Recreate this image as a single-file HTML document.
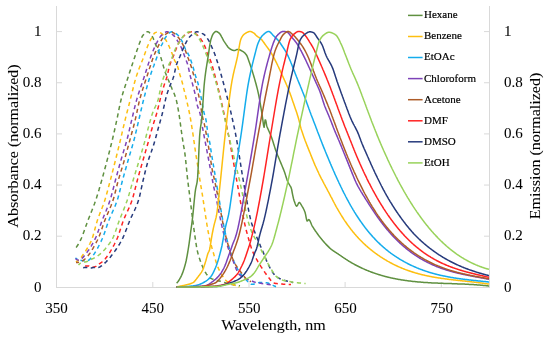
<!DOCTYPE html><html><head><meta charset="utf-8"><style>
html,body{margin:0;padding:0;background:#fff;}body{width:550px;height:338px;overflow:hidden;position:relative;}
svg{position:absolute;left:0;top:0;}
text{font-family:"Liberation Serif",serif;fill:#000;stroke:#000;stroke-width:0.05px;}
</style></head><body>
<svg width="550" height="338" viewBox="0 0 550 338">
<g stroke="#d9d9d9" stroke-width="1" fill="none">
<path d="M56.5,6V287.5H489.5V6" shape-rendering="crispEdges"/>
<path d="M57,31.6H62M484,31.6H489"/>
<path d="M57,82.75H62M484,82.75H489"/>
<path d="M57,133.9H62M484,133.9H489"/>
<path d="M57,185.05H62M484,185.05H489"/>
<path d="M57,236.2H62M484,236.2H489"/>
<path d="M152.8,282V287"/>
<path d="M249.0,282V287"/>
<path d="M345.1,282V287"/>
<path d="M441.3,282V287"/>
</g>
<g fill="none" stroke-width="1.5" stroke-linejoin="round">
<path stroke="#5f9040" stroke-dasharray="4.2 3.4" stroke-dashoffset="7.5" d="M76.0,247.5 76.5,246.9 77.0,246.2 77.5,245.5 78.0,244.8 78.5,244.0 79.0,243.1 79.5,242.2 80.0,241.2 80.5,240.2 81.0,239.1 81.5,238.0 82.0,236.7 82.5,235.5 83.0,234.2 83.5,232.8 84.0,231.4 84.5,230.0 85.0,228.6 85.5,227.2 86.0,225.8 86.5,224.4 87.0,223.0 87.5,221.6 88.0,220.3 88.5,219.0 89.0,217.7 89.5,216.4 90.0,215.1 90.5,213.9 91.0,212.7 91.5,211.4 92.0,210.2 92.5,208.9 93.0,207.6 93.5,206.3 94.0,205.0 94.5,203.7 95.0,202.3 95.5,200.9 96.0,199.4 96.5,197.9 97.0,196.3 97.5,194.7 98.0,193.1 98.5,191.4 99.0,189.8 99.5,188.0 100.0,186.3 100.5,184.6 101.0,182.8 101.5,181.1 102.0,179.3 102.5,177.5 103.0,175.7 103.5,173.9 104.0,172.1 104.5,170.2 105.0,168.3 105.5,166.5 106.0,164.6 106.5,162.7 107.0,160.8 107.5,158.9 108.0,157.0 108.5,155.0 109.0,153.1 109.5,151.2 110.0,149.3 110.5,147.3 111.0,145.3 111.5,143.3 112.0,141.2 112.5,139.2 113.0,137.0 113.5,134.9 114.0,132.7 114.5,130.5 115.0,128.2 115.5,126.0 116.0,123.7 116.5,121.4 117.0,119.1 117.5,116.7 118.0,114.2 118.5,111.6 119.0,109.1 119.5,106.7 120.0,104.3 120.5,102.1 121.0,100.0 121.5,98.1 122.0,96.3 122.5,94.5 123.0,92.8 123.5,91.2 124.0,89.6 124.5,88.1 125.0,86.6 125.5,85.1 126.0,83.6 126.5,82.1 127.0,80.6 127.5,79.0 128.0,77.5 128.5,75.9 129.0,74.4 129.5,72.8 130.0,71.3 130.5,69.8 131.0,68.2 131.5,66.7 132.0,65.2 132.5,63.7 133.0,62.2 133.5,60.7 134.0,59.2 134.5,57.7 135.0,56.2 135.5,54.7 136.0,53.2 136.5,51.8 137.0,50.3 137.5,48.9 138.0,47.5 138.5,46.0 139.0,44.6 139.5,43.3 140.0,42.0 140.5,40.7 141.0,39.4 141.5,38.1 142.0,36.9 142.5,35.9 143.0,35.3 143.5,34.7 144.0,34.1 144.5,33.6 145.0,33.1 145.5,32.6 146.0,32.3 146.5,32.0 147.0,31.8 147.5,31.7 148.0,31.7 148.5,31.9 149.0,32.2 149.5,32.7 150.0,33.2 150.5,33.9 151.0,34.6 151.5,35.3 152.0,36.0 152.5,36.8 153.0,37.8 153.5,39.0 154.0,40.3 154.5,41.7 155.0,43.0 155.5,44.2 156.0,45.4 156.5,46.6 157.0,47.7 157.5,48.8 158.0,50.0 158.5,51.2 159.0,52.4 159.5,53.7 160.0,55.0 160.5,56.4 161.0,58.0 161.5,59.6 162.0,61.3 162.5,63.1 163.0,64.8 163.5,66.6 164.0,68.3 164.5,69.9 165.0,71.4 165.5,72.9 166.0,74.2 166.5,75.5 167.0,76.8 167.5,78.0 168.0,79.2 168.5,80.3 169.0,81.5 169.5,82.7 170.0,83.9 170.5,85.0 171.0,86.3 171.5,87.5 172.0,88.7 172.5,89.8 173.0,90.9 173.5,92.1 174.0,93.3 174.5,94.5 175.0,95.9 175.5,97.3 176.0,99.0 176.5,100.9 177.0,103.1 177.5,105.6 178.0,108.3 178.5,111.2 179.0,114.2 179.5,117.3 180.0,120.8 180.5,124.6 181.0,128.4 181.5,132.0 182.0,135.5 182.5,138.9 183.0,142.1 183.5,145.2 184.0,147.9 184.5,150.7 185.0,154.3 185.5,158.6 186.0,163.3 186.5,168.4 187.0,173.7 187.5,178.4 188.0,182.5 188.5,186.4 189.0,190.3 189.5,194.2 190.0,198.2 190.5,202.2 191.0,206.2 191.5,210.3 192.0,214.3 192.5,218.2 193.0,222.1 193.5,225.9 194.0,229.6 194.5,233.2 195.0,236.6 195.5,240.0 196.0,243.4 196.5,246.5 197.0,249.3 197.5,251.6 198.0,253.6 198.5,255.4 199.0,257.0 199.5,258.6 200.0,260.0 200.5,261.4 201.0,262.6 201.5,263.9 202.0,265.2 202.5,266.4 203.0,267.6 203.5,268.8 204.0,269.8 204.5,270.8 205.0,271.7 205.5,272.5 206.0,273.3 206.5,274.1 207.0,274.8 207.5,275.5 208.0,276.2 208.5,276.7 209.0,277.2 209.5,277.6 210.0,277.9 210.5,278.2 211.0,278.4 211.5,278.7 212.0,278.9 212.5,279.1 213.0,279.3 213.5,279.5 214.0,279.6 214.5,279.8 215.0,279.9 215.5,280.1 216.0,280.2 216.5,280.4 217.0,280.5 217.5,280.6 218.0,280.7 218.5,280.9 219.0,281.0 219.5,281.1 220.0,281.2 220.5,281.3 221.0,281.5 221.5,281.6 222.0,281.7 222.5,281.9 223.0,282.0 223.5,282.1 224.0,282.3 224.5,282.5 225.0,282.6 225.5,282.8 226.0,282.9 226.5,283.1 227.0,283.2 227.5,283.4 228.0,283.5 228.5,283.6 229.0,283.8 229.5,283.9 230.0,284.0 230.5,284.2 231.0,284.3 231.5,284.4 232.0,284.5 232.5,284.6 233.0,284.7 233.5,284.8 234.0,284.9 234.5,285.0 235.0,285.1 235.5,285.2 236.0,285.2 236.5,285.3 237.0,285.4 237.5,285.5 238.0,285.6 238.5,285.6 239.0,285.7 239.5,285.7 240.0,285.8"/>
<path stroke="#fdbf10" stroke-dasharray="4.2 3.4" stroke-dashoffset="0.8" d="M76.0,262.0 76.5,261.6 77.0,261.2 77.5,260.8 78.0,260.4 78.5,260.0 79.0,259.5 79.5,259.0 80.0,258.6 80.5,258.1 81.0,257.5 81.5,256.9 82.0,256.2 82.5,255.5 83.0,254.8 83.5,254.1 84.0,253.3 84.5,252.6 85.0,251.8 85.5,251.1 86.0,250.3 86.5,249.5 87.0,248.8 87.5,248.0 88.0,247.1 88.5,246.3 89.0,245.4 89.5,244.4 90.0,243.5 90.5,242.4 91.0,241.4 91.5,240.2 92.0,239.0 92.5,237.6 93.0,236.0 93.5,234.3 94.0,232.5 94.5,230.7 95.0,228.8 95.5,226.9 96.0,225.1 96.5,223.3 97.0,221.6 97.5,220.0 98.0,218.5 98.5,217.1 99.0,215.7 99.5,214.4 100.0,213.1 100.5,211.9 101.0,210.6 101.5,209.3 102.0,208.1 102.5,206.8 103.0,205.5 103.5,204.1 104.0,202.7 104.5,201.2 105.0,199.7 105.5,198.1 106.0,196.4 106.5,194.6 107.0,192.8 107.5,191.0 108.0,189.1 108.5,187.2 109.0,185.3 109.5,183.4 110.0,181.5 110.5,179.6 111.0,177.7 111.5,175.8 112.0,173.9 112.5,171.9 113.0,169.9 113.5,168.0 114.0,166.0 114.5,164.0 115.0,162.0 115.5,160.0 116.0,158.0 116.5,156.0 117.0,154.0 117.5,151.9 118.0,149.9 118.5,147.9 119.0,145.8 119.5,143.7 120.0,141.7 120.5,139.6 121.0,137.5 121.5,135.3 122.0,133.2 122.5,131.0 123.0,128.9 123.5,126.7 124.0,124.6 124.5,122.5 125.0,120.4 125.5,118.4 126.0,116.4 126.5,114.4 127.0,112.4 127.5,110.5 128.0,108.5 128.5,106.6 129.0,104.7 129.5,102.7 130.0,100.8 130.5,98.8 131.0,96.8 131.5,94.8 132.0,92.7 132.5,90.7 133.0,88.7 133.5,86.6 134.0,84.7 134.5,82.8 135.0,80.9 135.5,79.2 136.0,77.5 136.5,75.9 137.0,74.4 137.5,73.0 138.0,71.5 138.5,70.2 139.0,68.8 139.5,67.5 140.0,66.2 140.5,65.0 141.0,63.7 141.5,62.5 142.0,61.2 142.5,60.0 143.0,58.7 143.5,57.4 144.0,56.1 144.5,54.7 145.0,53.3 145.5,51.9 146.0,50.5 146.5,49.1 147.0,47.8 147.5,46.5 148.0,45.3 148.5,44.2 149.0,43.0 149.5,42.0 150.0,40.9 150.5,39.9 151.0,39.0 151.5,38.1 152.0,37.1 152.5,36.1 153.0,35.2 153.5,34.4 154.0,33.7 154.5,33.1 155.0,32.8 155.5,32.6 156.0,32.4 156.5,32.2 157.0,32.1 157.5,32.0 158.0,32.0 158.5,32.0 159.0,32.1 159.5,32.3 160.0,32.5 160.5,32.8 161.0,33.1 161.5,33.4 162.0,33.8 162.5,34.3 163.0,35.0 163.5,35.8 164.0,36.6 164.5,37.5 165.0,38.5 165.5,39.4 166.0,40.3 166.5,41.2 167.0,42.1 167.5,43.1 168.0,44.1 168.5,45.2 169.0,46.2 169.5,47.3 170.0,48.5 170.5,49.6 171.0,50.8 171.5,52.1 172.0,53.3 172.5,54.7 173.0,56.2 173.5,57.7 174.0,59.0 174.5,60.1 175.0,61.1 175.5,62.0 176.0,62.9 176.5,63.9 177.0,65.0 177.5,66.2 178.0,67.8 178.5,69.5 179.0,71.4 179.5,73.2 180.0,75.0 180.5,76.6 181.0,78.2 181.5,79.9 182.0,81.6 182.5,83.5 183.0,85.5 183.5,87.6 184.0,89.6 184.5,91.6 185.0,93.6 185.5,95.5 186.0,97.6 186.5,99.7 187.0,102.0 187.5,104.2 188.0,106.4 188.5,108.7 189.0,111.0 189.5,113.4 190.0,116.0 190.5,118.8 191.0,121.7 191.5,124.8 192.0,128.0 192.5,131.2 193.0,134.5 193.5,137.9 194.0,141.3 194.5,144.8 195.0,148.4 195.5,151.9 196.0,155.3 196.5,158.4 197.0,161.3 197.5,164.3 198.0,167.3 198.5,170.6 199.0,173.9 199.5,177.3 200.0,180.6 200.5,183.7 201.0,186.7 201.5,189.6 202.0,192.6 202.5,195.7 203.0,198.9 203.5,202.2 204.0,205.5 204.5,208.8 205.0,212.1 205.5,215.5 206.0,218.7 206.5,221.9 207.0,225.0 207.5,228.0 208.0,230.8 208.5,233.4 209.0,235.9 209.5,238.2 210.0,240.4 210.5,242.4 211.0,244.4 211.5,246.3 212.0,248.1 212.5,249.9 213.0,251.6 213.5,253.3 214.0,255.1 214.5,256.8 215.0,258.5 215.5,260.1 216.0,261.7 216.5,263.3 217.0,264.8 217.5,266.1 218.0,267.4 218.5,268.6 219.0,269.6 219.5,270.6 220.0,271.6 220.5,272.6 221.0,273.5 221.5,274.4 222.0,275.2 222.5,276.0 223.0,276.8 223.5,277.5 224.0,278.2 224.5,278.9 225.0,279.4 225.5,280.0 226.0,280.5 226.5,280.9 227.0,281.3 227.5,281.6 228.0,282.0 228.5,282.3 229.0,282.6 229.5,282.9 230.0,283.1 230.5,283.4 231.0,283.6 231.5,283.9 232.0,284.1 232.5,284.3 233.0,284.5 233.5,284.7 234.0,285.0 234.5,285.2 235.0,285.4 235.5,285.6 236.0,285.8 236.5,286.0 237.0,286.2 237.5,286.4 238.0,286.5 238.5,286.7 239.0,286.9 239.4,287.0"/>
<path stroke="#14acec" stroke-dasharray="4.2 3.4" stroke-dashoffset="2.1" d="M75.5,258.0 76.0,258.3 76.5,258.6 77.0,258.9 77.5,259.2 78.0,259.4 78.5,259.6 79.0,259.8 79.5,259.9 80.0,260.1 80.5,260.2 81.0,260.4 81.5,260.5 82.0,260.6 82.5,260.7 83.0,260.7 83.5,260.8 84.0,260.8 84.5,260.8 85.0,260.8 85.5,260.7 86.0,260.7 86.5,260.6 87.0,260.6 87.5,260.5 88.0,260.4 88.5,260.3 89.0,260.0 89.5,259.6 90.0,259.1 90.5,258.5 91.0,257.9 91.5,257.4 92.0,256.8 92.5,256.2 93.0,255.6 93.5,254.9 94.0,254.2 94.5,253.4 95.0,252.6 95.5,251.8 96.0,251.0 96.5,250.2 97.0,249.3 97.5,248.4 98.0,247.4 98.5,246.5 99.0,245.5 99.5,244.5 100.0,243.5 100.5,242.5 101.0,241.5 101.5,240.4 102.0,239.3 102.5,238.2 103.0,236.9 103.5,235.6 104.0,234.3 104.5,232.9 105.0,231.4 105.5,230.0 106.0,228.5 106.5,227.0 107.0,225.5 107.5,224.1 108.0,222.7 108.5,221.3 109.0,220.0 109.5,218.7 110.0,217.5 110.5,216.4 111.0,215.2 111.5,214.1 112.0,213.0 112.5,211.9 113.0,210.8 113.5,209.7 114.0,208.5 114.5,207.4 115.0,206.2 115.5,204.9 116.0,203.6 116.5,202.3 117.0,200.9 117.5,199.4 118.0,197.8 118.5,196.0 119.0,194.2 119.5,192.2 120.0,190.3 120.5,188.2 121.0,186.2 121.5,184.2 122.0,182.3 122.5,180.4 123.0,178.5 123.5,176.7 124.0,174.9 124.5,173.1 125.0,171.3 125.5,169.5 126.0,167.8 126.5,166.0 127.0,164.2 127.5,162.5 128.0,160.7 128.5,159.0 129.0,157.2 129.5,155.5 130.0,153.9 130.5,152.2 131.0,150.5 131.5,148.9 132.0,147.2 132.5,145.4 133.0,143.7 133.5,141.9 134.0,140.0 134.5,138.1 135.0,136.1 135.5,134.0 136.0,131.9 136.5,129.8 137.0,127.7 137.5,125.5 138.0,123.4 138.5,121.3 139.0,119.2 139.5,117.0 140.0,114.8 140.5,112.7 141.0,110.5 141.5,108.3 142.0,106.2 142.5,104.1 143.0,102.0 143.5,100.0 144.0,98.0 144.5,96.1 145.0,94.2 145.5,92.3 146.0,90.4 146.5,88.6 147.0,86.7 147.5,84.9 148.0,83.2 148.5,81.5 149.0,79.8 149.5,78.1 150.0,76.5 150.5,75.0 151.0,73.5 151.5,72.1 152.0,70.6 152.5,69.2 153.0,67.9 153.5,66.5 154.0,65.2 154.5,63.8 155.0,62.5 155.5,61.1 156.0,59.7 156.5,58.3 157.0,56.8 157.5,55.3 158.0,53.7 158.5,52.0 159.0,50.3 159.5,49.0 160.0,47.9 160.5,46.9 161.0,46.0 161.5,45.2 162.0,44.3 162.5,43.3 163.0,42.2 163.5,41.2 164.0,40.1 164.5,39.0 165.0,38.1 165.5,37.4 166.0,36.8 166.5,36.1 167.0,35.5 167.5,34.9 168.0,34.3 168.5,33.7 169.0,33.3 169.5,32.8 170.0,32.4 170.5,32.1 171.0,31.9 171.5,31.8 172.0,31.8 172.5,31.9 173.0,32.0 173.5,32.2 174.0,32.4 174.5,32.7 175.0,33.0 175.5,33.3 176.0,33.6 176.5,34.0 177.0,34.3 177.5,34.8 178.0,35.3 178.5,35.8 179.0,36.5 179.5,37.2 180.0,37.9 180.5,38.7 181.0,39.5 181.5,40.3 182.0,41.2 182.5,42.2 183.0,43.4 183.5,44.6 184.0,45.8 184.5,46.9 185.0,48.0 185.5,49.0 186.0,49.9 186.5,50.8 187.0,51.7 187.5,52.6 188.0,53.6 188.5,54.6 189.0,55.6 189.5,56.8 190.0,58.0 190.5,59.4 191.0,60.8 191.5,62.3 192.0,63.8 192.5,65.4 193.0,67.0 193.5,68.7 194.0,70.5 194.5,72.2 195.0,74.0 195.5,75.7 196.0,77.2 196.5,78.7 197.0,80.2 197.5,81.8 198.0,83.4 198.5,85.2 199.0,87.3 199.5,89.6 200.0,92.0 200.5,94.5 201.0,97.0 201.5,99.7 202.0,102.4 202.5,105.2 203.0,107.8 203.5,110.3 204.0,112.6 204.5,114.5 205.0,116.1 205.5,117.9 206.0,120.0 206.5,123.1 207.0,127.1 207.5,131.2 208.0,134.6 208.5,137.2 209.0,139.3 209.5,141.5 210.0,144.0 210.5,147.2 211.0,150.7 211.5,154.0 212.0,157.0 212.5,159.9 213.0,162.8 213.5,165.8 214.0,168.7 214.5,171.7 215.0,174.7 215.5,177.6 216.0,180.6 216.5,183.6 217.0,186.7 217.5,189.7 218.0,192.6 218.5,195.5 219.0,198.4 219.5,201.4 220.0,204.3 220.5,207.3 221.0,210.2 221.5,213.1 222.0,216.0 222.5,218.8 223.0,221.5 223.5,224.2 224.0,226.8 224.5,229.2 225.0,231.6 225.5,233.8 226.0,235.9 226.5,237.9 227.0,239.8 227.5,241.7 228.0,243.5 228.5,245.3 229.0,247.0 229.5,248.7 230.0,250.3 230.5,251.9 231.0,253.4 231.5,254.9 232.0,256.3 232.5,257.7 233.0,259.0 233.5,260.3 234.0,261.6 234.5,262.7 235.0,263.9 235.5,264.9 236.0,265.9 236.5,266.9 237.0,267.8 237.5,268.8 238.0,269.7 238.5,270.6 239.0,271.5 239.5,272.4 240.0,273.2 240.5,273.9 241.0,274.4 241.5,274.9 242.0,275.4 242.5,275.8 243.0,276.2 243.5,276.6 244.0,277.0 244.5,277.5 245.0,278.1 245.5,278.8 246.0,279.5 246.5,280.2 247.0,280.7 247.5,281.2 248.0,281.8 248.5,282.3 249.0,282.9 249.5,283.3 250.0,283.7 250.5,284.0 251.0,284.2 251.5,284.3 252.0,284.3 252.5,284.3 253.0,284.2 253.5,284.2 254.0,284.1 254.5,284.1 255.0,284.0 255.5,283.9 256.0,283.7 256.5,283.5 257.0,283.3 257.5,283.1 258.0,282.9 258.5,282.8 259.0,282.6 259.5,282.6 260.0,282.6 260.5,282.6 261.0,282.6 261.5,282.6 262.0,282.6 262.5,282.6 263.0,282.6 263.5,282.7 264.0,282.7 264.5,282.7 265.0,282.7 265.5,282.7 266.0,282.8 266.5,282.8 267.0,282.8 267.5,282.9 268.0,283.0 268.5,283.2 269.0,283.5 269.5,283.7 270.0,284.0 270.5,284.3 271.0,284.5 271.5,284.8 272.0,285.0 272.5,285.2 273.0,285.4 273.5,285.6 274.0,285.8 274.5,286.1 275.0,286.3 275.5,286.5 276.0,286.7"/>
<path stroke="#7d42b8" stroke-dasharray="4.2 3.4" stroke-dashoffset="0.3" d="M75.5,258.5 76.0,259.0 76.5,259.4 77.0,259.7 77.5,259.9 78.0,260.1 78.5,260.2 79.0,260.2 79.5,260.1 80.0,259.9 80.5,259.6 81.0,259.2 81.5,258.8 82.0,258.3 82.5,257.9 83.0,257.4 83.5,256.9 84.0,256.2 84.5,255.6 85.0,254.9 85.5,254.3 86.0,253.6 86.5,253.0 87.0,252.3 87.5,251.6 88.0,250.9 88.5,250.2 89.0,249.5 89.5,248.7 90.0,248.0 90.5,247.2 91.0,246.4 91.5,245.6 92.0,244.7 92.5,243.9 93.0,243.0 93.5,242.1 94.0,241.2 94.5,240.2 95.0,239.2 95.5,238.1 96.0,237.0 96.5,235.7 97.0,234.5 97.5,233.2 98.0,231.8 98.5,230.5 99.0,229.1 99.5,227.7 100.0,226.3 100.5,224.9 101.0,223.5 101.5,222.1 102.0,220.8 102.5,219.5 103.0,218.2 103.5,217.0 104.0,215.8 104.5,214.6 105.0,213.4 105.5,212.2 106.0,211.0 106.5,209.7 107.0,208.5 107.5,207.2 108.0,205.9 108.5,204.6 109.0,203.2 109.5,201.8 110.0,200.3 110.5,198.7 111.0,197.1 111.5,195.3 112.0,193.5 112.5,191.6 113.0,189.6 113.5,187.7 114.0,185.7 114.5,183.8 115.0,181.9 115.5,180.0 116.0,178.2 116.5,176.3 117.0,174.5 117.5,172.6 118.0,170.8 118.5,169.0 119.0,167.2 119.5,165.3 120.0,163.5 120.5,161.8 121.0,160.0 121.5,158.3 122.0,156.6 122.5,154.9 123.0,153.3 123.5,151.6 124.0,150.0 124.5,148.4 125.0,146.7 125.5,145.0 126.0,143.3 126.5,141.5 127.0,139.6 127.5,137.7 128.0,135.7 128.5,133.6 129.0,131.5 129.5,129.4 130.0,127.2 130.5,125.1 131.0,122.9 131.5,120.8 132.0,118.8 132.5,116.6 133.0,114.5 133.5,112.4 134.0,110.3 134.5,108.2 135.0,106.1 135.5,104.1 136.0,102.2 136.5,100.4 137.0,98.6 137.5,96.9 138.0,95.3 138.5,93.7 139.0,92.2 139.5,90.7 140.0,89.2 140.5,87.7 141.0,86.3 141.5,84.8 142.0,83.4 142.5,81.9 143.0,80.5 143.5,79.0 144.0,77.5 144.5,76.0 145.0,74.4 145.5,72.9 146.0,71.3 146.5,69.7 147.0,68.1 147.5,66.6 148.0,65.0 148.5,63.4 149.0,61.9 149.5,60.4 150.0,58.9 150.5,57.5 151.0,56.1 151.5,54.7 152.0,53.4 152.5,52.2 153.0,51.0 153.5,49.8 154.0,48.6 154.5,47.4 155.0,46.3 155.5,45.2 156.0,44.2 156.5,43.2 157.0,42.3 157.5,41.3 158.0,40.4 158.5,39.4 159.0,38.6 159.5,37.8 160.0,37.1 160.5,36.4 161.0,35.9 161.5,35.4 162.0,34.9 162.5,34.4 163.0,34.0 163.5,33.5 164.0,33.1 164.5,32.7 165.0,32.4 165.5,32.2 166.0,32.0 166.5,31.8 167.0,31.8 167.5,31.8 168.0,31.9 168.5,32.1 169.0,32.3 169.5,32.5 170.0,32.8 170.5,33.1 171.0,33.4 171.5,33.8 172.0,34.2 172.5,34.6 173.0,34.9 173.5,35.4 174.0,35.9 174.5,36.4 175.0,37.1 175.5,37.8 176.0,38.5 176.5,39.3 177.0,40.0 177.5,40.8 178.0,41.6 178.5,42.4 179.0,43.2 179.5,44.1 180.0,45.0 180.5,46.0 181.0,47.0 181.5,48.0 182.0,49.2 182.5,50.5 183.0,51.8 183.5,53.2 184.0,54.6 184.5,56.0 185.0,57.4 185.5,58.6 186.0,59.9 186.5,61.2 187.0,62.5 187.5,64.0 188.0,65.7 188.5,67.8 189.0,70.2 189.5,72.7 190.0,75.0 190.5,76.9 191.0,78.7 191.5,80.4 192.0,82.1 192.5,83.9 193.0,85.8 193.5,87.7 194.0,89.6 194.5,91.6 195.0,93.7 195.5,96.0 196.0,98.6 196.5,101.4 197.0,104.0 197.5,106.0 198.0,107.6 198.5,108.9 199.0,110.2 199.5,111.6 200.0,113.3 200.5,115.6 201.0,118.3 201.5,121.4 202.0,124.5 202.5,127.4 203.0,130.2 203.5,132.8 204.0,135.5 204.5,138.1 205.0,140.7 205.5,143.3 206.0,145.9 206.5,148.5 207.0,151.1 207.5,153.8 208.0,156.4 208.5,159.0 209.0,161.7 209.5,164.4 210.0,167.0 210.5,169.7 211.0,172.4 211.5,175.1 212.0,177.8 212.5,180.5 213.0,183.1 213.5,185.6 214.0,188.0 214.5,190.3 215.0,192.6 215.5,194.9 216.0,197.3 216.5,199.8 217.0,202.2 217.5,204.7 218.0,207.2 218.5,209.8 219.0,212.3 219.5,214.8 220.0,217.2 220.5,219.7 221.0,222.0 221.5,224.4 222.0,226.6 222.5,228.8 223.0,230.9 223.5,232.9 224.0,234.8 224.5,236.6 225.0,238.3 225.5,240.0 226.0,241.6 226.5,243.1 227.0,244.6 227.5,246.1 228.0,247.5 228.5,248.9 229.0,250.2 229.5,251.6 230.0,252.9 230.5,254.2 231.0,255.4 231.5,256.7 232.0,258.0 232.5,259.3 233.0,260.6 233.5,262.0 234.0,263.3 234.5,264.7 235.0,266.0 235.5,267.3 236.0,268.6 236.5,269.8 237.0,270.9 237.5,271.9 238.0,272.8 238.5,273.6 239.0,274.2 239.5,274.7 240.0,275.2 240.5,275.6 241.0,276.1 241.5,276.4 242.0,276.8 242.5,277.1 243.0,277.4 243.5,277.7 244.0,278.0 244.5,278.3 245.0,278.5 245.5,278.7 246.0,278.9 246.5,279.1 247.0,279.3 247.5,279.5 248.0,279.6 248.5,279.8 249.0,280.0 249.5,280.1 250.0,280.3 250.5,280.5 251.0,280.6 251.5,280.8 252.0,281.1 252.5,281.3 253.0,281.5 253.5,281.7 254.0,281.9 254.5,282.1 255.0,282.2 255.5,282.4 256.0,282.5 256.5,282.6 257.0,282.7 257.5,282.8 258.0,282.9 258.5,283.0 259.0,283.1 259.5,283.1 260.0,283.2 260.5,283.3 261.0,283.3 261.5,283.4 262.0,283.5 262.5,283.6 263.0,283.7 263.5,283.7 264.0,283.8 264.5,283.9 265.0,284.0 265.5,284.0 266.0,284.1 266.5,284.2 267.0,284.3 267.5,284.3 268.0,284.4 268.5,284.5 269.0,284.6 269.5,284.6 270.0,284.7 270.5,284.8 271.0,284.9 271.5,284.9 272.0,285.0"/>
<path stroke="#ad5c28" stroke-dasharray="4.2 3.4" stroke-dashoffset="1.2" d="M76.0,262.5 76.5,262.5 77.0,262.5 77.5,262.4 78.0,262.4 78.5,262.3 79.0,262.2 79.5,262.1 80.0,262.0 80.5,261.9 81.0,261.7 81.5,261.4 82.0,261.2 82.5,260.9 83.0,260.5 83.5,260.2 84.0,259.8 84.5,259.4 85.0,259.0 85.5,258.5 86.0,258.0 86.5,257.5 87.0,257.0 87.5,256.4 88.0,255.8 88.5,255.1 89.0,254.5 89.5,253.8 90.0,253.1 90.5,252.3 91.0,251.6 91.5,250.8 92.0,250.0 92.5,249.1 93.0,248.3 93.5,247.4 94.0,246.5 94.5,245.6 95.0,244.7 95.5,243.8 96.0,242.9 96.5,241.9 97.0,241.0 97.5,240.0 98.0,239.0 98.5,237.9 99.0,236.7 99.5,235.4 100.0,234.1 100.5,232.7 101.0,231.3 101.5,229.9 102.0,228.4 102.5,227.0 103.0,225.5 103.5,224.1 104.0,222.7 104.5,221.3 105.0,220.0 105.5,218.7 106.0,217.5 106.5,216.3 107.0,215.2 107.5,214.0 108.0,212.9 108.5,211.7 109.0,210.6 109.5,209.4 110.0,208.2 110.5,207.0 111.0,205.8 111.5,204.5 112.0,203.2 112.5,201.8 113.0,200.3 113.5,198.7 114.0,197.0 114.5,195.2 115.0,193.3 115.5,191.3 116.0,189.3 116.5,187.3 117.0,185.3 117.5,183.3 118.0,181.5 118.5,179.6 119.0,177.9 119.5,176.2 120.0,174.5 120.5,172.9 121.0,171.3 121.5,169.6 122.0,168.0 122.5,166.4 123.0,164.7 123.5,163.1 124.0,161.4 124.5,159.7 125.0,157.9 125.5,156.1 126.0,154.3 126.5,152.5 127.0,150.7 127.5,148.9 128.0,147.0 128.5,145.2 129.0,143.3 129.5,141.5 130.0,139.6 130.5,137.8 131.0,136.0 131.5,134.1 132.0,132.3 132.5,130.5 133.0,128.6 133.5,126.7 134.0,124.8 134.5,122.8 135.0,120.8 135.5,118.7 136.0,116.5 136.5,114.2 137.0,111.8 137.5,109.3 138.0,107.0 138.5,104.6 139.0,102.4 139.5,100.4 140.0,98.5 140.5,96.7 141.0,94.9 141.5,93.2 142.0,91.6 142.5,90.0 143.0,88.4 143.5,86.9 144.0,85.4 144.5,83.9 145.0,82.3 145.5,80.8 146.0,79.3 146.5,77.8 147.0,76.3 147.5,74.7 148.0,73.1 148.5,71.6 149.0,70.0 149.5,68.4 150.0,66.9 150.5,65.4 151.0,63.8 151.5,62.4 152.0,60.9 152.5,59.5 153.0,58.1 153.5,56.8 154.0,55.5 154.5,54.3 155.0,53.1 155.5,51.9 156.0,50.8 156.5,49.8 157.0,48.7 157.5,47.7 158.0,46.7 158.5,45.7 159.0,44.7 159.5,43.7 160.0,42.7 160.5,41.8 161.0,40.8 161.5,40.0 162.0,39.2 162.5,38.4 163.0,37.7 163.5,36.9 164.0,36.2 164.5,35.6 165.0,35.0 165.5,34.4 166.0,34.0 166.5,33.6 167.0,33.3 167.5,33.0 168.0,32.7 168.5,32.5 169.0,32.3 169.5,32.1 170.0,31.9 170.5,31.8 171.0,31.8 171.5,31.9 172.0,32.0 172.5,32.3 173.0,32.6 173.5,32.9 174.0,33.2 174.5,33.6 175.0,34.0 175.5,34.4 176.0,34.9 176.5,35.4 177.0,35.9 177.5,36.5 178.0,37.1 178.5,37.7 179.0,38.3 179.5,39.0 180.0,39.7 180.5,40.4 181.0,41.2 181.5,42.0 182.0,42.9 182.5,43.8 183.0,44.8 183.5,45.9 184.0,47.0 184.5,48.2 185.0,49.5 185.5,50.8 186.0,52.2 186.5,53.6 187.0,55.0 187.5,56.3 188.0,57.7 188.5,59.0 189.0,60.4 189.5,61.8 190.0,63.2 190.5,64.6 191.0,66.1 191.5,67.6 192.0,69.2 192.5,70.9 193.0,72.7 193.5,74.5 194.0,76.3 194.5,78.2 195.0,80.3 195.5,82.4 196.0,84.5 196.5,86.6 197.0,88.6 197.5,90.5 198.0,92.5 198.5,94.6 199.0,96.9 199.5,99.4 200.0,102.0 200.5,104.9 201.0,108.0 201.5,111.1 202.0,114.1 202.5,116.8 203.0,119.0 203.5,121.0 204.0,122.8 204.5,124.9 205.0,127.2 205.5,129.8 206.0,132.6 206.5,135.5 207.0,138.3 207.5,141.1 208.0,143.9 208.5,146.6 209.0,149.4 209.5,152.3 210.0,155.3 210.5,158.6 211.0,162.1 211.5,165.6 212.0,168.6 212.5,171.2 213.0,173.5 213.5,175.7 214.0,177.9 214.5,180.1 215.0,182.5 215.5,184.8 216.0,187.1 216.5,189.5 217.0,192.0 217.5,194.5 218.0,197.1 218.5,199.7 219.0,202.4 219.5,205.1 220.0,207.8 220.5,210.5 221.0,213.2 221.5,215.9 222.0,218.5 222.5,221.1 223.0,223.7 223.5,226.2 224.0,228.5 224.5,230.8 225.0,233.0 225.5,235.1 226.0,237.1 226.5,239.0 227.0,240.9 227.5,242.7 228.0,244.5 228.5,246.3 229.0,248.0 229.5,249.6 230.0,251.2 230.5,252.8 231.0,254.3 231.5,255.7 232.0,257.0 232.5,258.3 233.0,259.5 233.5,260.6 234.0,261.7 234.5,262.7 235.0,263.7 235.5,264.6 236.0,265.4 236.5,266.3 237.0,267.0 237.5,267.8 238.0,268.5 238.5,269.2 239.0,269.8 239.5,270.4 240.0,271.1 240.5,271.7 241.0,272.3 241.5,272.9 242.0,273.5 242.5,274.2 243.0,274.9 243.5,275.6 244.0,276.3 244.5,276.9 245.0,277.6 245.5,278.1 246.0,278.6 246.5,279.0 247.0,279.4 247.5,279.8 248.0,280.1 248.5,280.4 249.0,280.7 249.5,281.0 250.0,281.2 250.5,281.4 251.0,281.5"/>
<path stroke="#ff2222" stroke-dasharray="4.2 3.4" stroke-dashoffset="6.5" d="M84.0,266.3 84.5,266.2 85.0,266.1 85.5,266.1 86.0,266.1 86.5,266.0 87.0,266.0 87.5,266.0 88.0,266.0 88.5,266.0 89.0,266.0 89.5,266.2 90.0,266.4 90.5,266.7 91.0,266.9 91.5,267.1 92.0,267.3 92.5,267.3 93.0,267.3 93.5,267.2 94.0,267.1 94.5,266.9 95.0,266.7 95.5,266.6 96.0,266.4 96.5,266.1 97.0,265.7 97.5,265.3 98.0,264.9 98.5,264.5 99.0,264.1 99.5,263.7 100.0,263.4 100.5,263.1 101.0,262.7 101.5,262.4 102.0,262.0 102.5,261.6 103.0,261.2 103.5,260.7 104.0,260.2 104.5,259.6 105.0,259.1 105.5,258.5 106.0,257.8 106.5,257.2 107.0,256.5 107.5,255.8 108.0,255.1 108.5,254.4 109.0,253.6 109.5,252.9 110.0,252.1 110.5,251.2 111.0,250.4 111.5,249.5 112.0,248.7 112.5,247.8 113.0,246.8 113.5,245.9 114.0,245.0 114.5,244.0 115.0,243.0 115.5,242.0 116.0,241.0 116.5,240.0 117.0,238.9 117.5,237.7 118.0,236.4 118.5,235.1 119.0,233.6 119.5,232.1 120.0,230.6 120.5,229.1 121.0,227.5 121.5,226.0 122.0,224.5 122.5,223.0 123.0,221.6 123.5,220.3 124.0,219.0 124.5,217.8 125.0,216.6 125.5,215.5 126.0,214.4 126.5,213.3 127.0,212.2 127.5,211.2 128.0,210.1 128.5,209.0 129.0,207.9 129.5,206.7 130.0,205.6 130.5,204.3 131.0,203.1 131.5,201.7 132.0,200.3 132.5,198.8 133.0,197.1 133.5,195.3 134.0,193.4 134.5,191.5 135.0,189.5 135.5,187.4 136.0,185.4 136.5,183.4 137.0,181.5 137.5,179.6 138.0,177.8 138.5,176.0 139.0,174.2 139.5,172.4 140.0,170.7 140.5,168.9 141.0,167.2 141.5,165.4 142.0,163.6 142.5,161.9 143.0,160.2 143.5,158.5 144.0,156.8 144.5,155.1 145.0,153.4 145.5,151.6 146.0,149.9 146.5,148.2 147.0,146.5 147.5,144.8 148.0,143.0 148.5,141.2 149.0,139.4 149.5,137.5 150.0,135.7 150.5,133.8 151.0,132.0 151.5,130.2 152.0,128.5 152.5,126.8 153.0,125.2 153.5,123.6 154.0,122.0 154.5,120.5 155.0,118.9 155.5,117.3 156.0,115.7 156.5,114.0 157.0,112.1 157.5,110.2 158.0,108.3 158.5,106.2 159.0,104.2 159.5,102.1 160.0,100.1 160.5,98.1 161.0,96.1 161.5,94.3 162.0,92.4 162.5,90.7 163.0,88.9 163.5,87.2 164.0,85.6 164.5,84.1 165.0,82.6 165.5,81.2 166.0,79.8 166.5,78.3 167.0,76.5 167.5,74.5 168.0,72.4 168.5,70.1 169.0,68.0 169.5,66.0 170.0,64.3 170.5,62.9 171.0,61.6 171.5,60.4 172.0,59.3 172.5,58.1 173.0,57.0 173.5,55.8 174.0,54.6 174.5,53.3 175.0,51.9 175.5,50.6 176.0,49.3 176.5,48.0 177.0,46.8 177.5,45.6 178.0,44.5 178.5,43.5 179.0,42.6 179.5,41.7 180.0,40.9 180.5,40.2 181.0,39.4 181.5,38.7 182.0,38.1 182.5,37.4 183.0,36.8 183.5,36.3 184.0,35.8 184.5,35.4 185.0,35.0 185.5,34.7 186.0,34.3 186.5,34.0 187.0,33.7 187.5,33.4 188.0,33.1 188.5,32.8 189.0,32.6 189.5,32.3 190.0,32.2 190.5,32.0 191.0,31.9 191.5,31.8 192.0,31.8 192.5,31.8 193.0,32.0 193.5,32.2 194.0,32.5 194.5,32.8 195.0,33.2 195.5,33.6 196.0,34.0 196.5,34.4 197.0,34.8 197.5,35.3 198.0,35.7 198.5,36.2 199.0,36.8 199.5,37.4 200.0,38.0 200.5,38.6 201.0,39.3 201.5,40.1 202.0,40.8 202.5,41.6 203.0,42.5 203.5,43.5 204.0,44.5 204.5,45.6 205.0,46.7 205.5,47.9 206.0,49.3 206.5,50.8 207.0,52.4 207.5,53.8 208.0,55.1 208.5,56.2 209.0,57.2 209.5,58.3 210.0,59.4 210.5,60.6 211.0,62.0 211.5,63.5 212.0,65.1 212.5,66.7 213.0,68.5 213.5,70.3 214.0,72.1 214.5,74.0 215.0,75.9 215.5,77.9 216.0,79.9 216.5,81.8 217.0,83.8 217.5,85.8 218.0,87.8 218.5,89.8 219.0,91.8 219.5,93.9 220.0,96.0 220.5,98.2 221.0,100.3 221.5,102.5 222.0,104.7 222.5,106.9 223.0,109.1 223.5,111.4 224.0,113.7 224.5,116.0 225.0,118.3 225.5,120.7 226.0,123.0 226.5,125.4 227.0,127.8 227.5,130.3 228.0,132.7 228.5,135.2 229.0,137.7 229.5,140.3 230.0,142.9 230.5,145.6 231.0,148.3 231.5,151.1 232.0,153.9 232.5,156.7 233.0,159.5 233.5,162.3 234.0,165.2 234.5,168.0 235.0,170.8 235.5,173.7 236.0,176.5 236.5,179.3 237.0,182.1 237.5,184.8 238.0,187.6 238.5,190.4 239.0,193.2 239.5,196.1 240.0,198.9 240.5,201.8 241.0,204.6 241.5,207.4 242.0,210.2 242.5,212.9 243.0,215.5 243.5,218.1 244.0,220.6 244.5,222.9 245.0,225.1 245.5,227.2 246.0,229.3 246.5,231.2 247.0,233.1 247.5,234.9 248.0,236.7 248.5,238.5 249.0,240.3 249.5,242.0 250.0,243.7 250.5,245.3 251.0,246.9 251.5,248.4 252.0,249.8 252.5,251.0 253.0,252.2 253.5,253.4 254.0,254.4 254.5,255.4 255.0,256.4 255.5,257.3 256.0,258.3 256.5,259.2 257.0,260.0 257.5,260.9 258.0,261.8 258.5,262.6 259.0,263.5 259.5,264.3 260.0,265.0 260.5,265.8 261.0,266.6 261.5,267.3 262.0,268.1 262.5,268.9 263.0,269.6 263.5,270.4 264.0,271.1 264.5,271.8 265.0,272.6 265.5,273.3 266.0,274.0 266.5,274.7 267.0,275.4 267.5,276.0 268.0,276.7 268.5,277.3 269.0,278.0 269.5,278.6 270.0,279.3 270.5,280.0 271.0,280.7 271.5,281.3 272.0,281.9 272.5,282.4 273.0,282.7 273.5,283.0 274.0,283.1 274.5,283.2 275.0,283.3 275.5,283.4 276.0,283.5 276.5,283.6 277.0,283.6 277.5,283.7 278.0,283.8 278.5,283.8 279.0,283.8 279.5,283.9 280.0,283.9 280.5,284.0 281.0,284.0 281.5,284.0 282.0,284.1 282.5,284.1 283.0,284.2 283.5,284.2 284.0,284.2 284.5,284.3 285.0,284.3 285.5,284.3 286.0,284.3 286.5,284.4 287.0,284.4 287.5,284.4 288.0,284.4 288.5,284.5 289.0,284.5 289.5,284.5 290.0,284.5 290.5,284.5 291.0,284.5"/>
<path stroke="#263a7c" stroke-dasharray="4.2 3.4" stroke-dashoffset="6.9" d="M82.5,267.8 83.0,267.7 83.5,267.7 84.0,267.6 84.5,267.6 85.0,267.5 85.5,267.5 86.0,267.5 86.5,267.5 87.0,267.5 87.5,267.6 88.0,267.6 88.5,267.7 89.0,267.8 89.5,267.9 90.0,268.0 90.5,268.0 91.0,268.0 91.5,267.9 92.0,267.8 92.5,267.7 93.0,267.6 93.5,267.6 94.0,267.5 94.5,267.5 95.0,267.5 95.5,267.5 96.0,267.5 96.5,267.5 97.0,267.5 97.5,267.5 98.0,267.5 98.5,267.4 99.0,267.3 99.5,267.1 100.0,266.8 100.5,266.5 101.0,266.2 101.5,265.9 102.0,265.6 102.5,265.2 103.0,264.8 103.5,264.3 104.0,263.9 104.5,263.4 105.0,262.9 105.5,262.4 106.0,262.0 106.5,261.4 107.0,260.9 107.5,260.4 108.0,259.9 108.5,259.3 109.0,258.7 109.5,258.1 110.0,257.5 110.5,256.9 111.0,256.2 111.5,255.6 112.0,254.9 112.5,254.3 113.0,253.6 113.5,253.0 114.0,252.3 114.5,251.6 115.0,250.9 115.5,250.2 116.0,249.5 116.5,248.8 117.0,248.0 117.5,247.3 118.0,246.5 118.5,245.7 119.0,244.9 119.5,244.1 120.0,243.2 120.5,242.4 121.0,241.5 121.5,240.6 122.0,239.6 122.5,238.6 123.0,237.6 123.5,236.4 124.0,235.3 124.5,234.1 125.0,232.8 125.5,231.6 126.0,230.3 126.5,229.0 127.0,227.6 127.5,226.3 128.0,225.0 128.5,223.7 129.0,222.5 129.5,221.2 130.0,220.0 130.5,218.8 131.0,217.7 131.5,216.6 132.0,215.6 132.5,214.5 133.0,213.5 133.5,212.5 134.0,211.4 134.5,210.4 135.0,209.3 135.5,208.2 136.0,207.0 136.5,205.8 137.0,204.6 137.5,203.2 138.0,201.8 138.5,200.3 139.0,198.7 139.5,196.8 140.0,194.7 140.5,192.4 141.0,190.1 141.5,187.7 142.0,185.4 142.5,183.1 143.0,180.8 143.5,178.8 144.0,176.7 144.5,174.6 145.0,172.5 145.5,170.5 146.0,168.5 146.5,166.6 147.0,164.7 147.5,163.0 148.0,161.3 148.5,159.7 149.0,158.2 149.5,156.7 150.0,155.3 150.5,153.9 151.0,152.5 151.5,151.2 152.0,149.7 152.5,148.3 153.0,146.8 153.5,145.3 154.0,143.7 154.5,142.0 155.0,140.3 155.5,138.5 156.0,136.7 156.5,134.8 157.0,133.0 157.5,131.1 158.0,129.3 158.5,127.4 159.0,125.6 159.5,123.9 160.0,122.1 160.5,120.3 161.0,118.5 161.5,116.6 162.0,114.8 162.5,112.8 163.0,110.7 163.5,108.5 164.0,106.3 164.5,104.0 165.0,101.8 165.5,99.6 166.0,97.6 166.5,95.7 167.0,94.0 167.5,92.4 168.0,91.0 168.5,89.6 169.0,88.2 169.5,86.9 170.0,85.6 170.5,84.4 171.0,83.2 171.5,82.1 172.0,81.0 172.5,79.8 173.0,78.5 173.5,77.0 174.0,75.1 174.5,73.0 175.0,70.7 175.5,68.5 176.0,66.4 176.5,64.6 177.0,63.2 177.5,61.9 178.0,60.7 178.5,59.6 179.0,58.5 179.5,57.4 180.0,56.3 180.5,55.1 181.0,53.9 181.5,52.7 182.0,51.5 182.5,50.3 183.0,49.1 183.5,47.9 184.0,46.8 184.5,45.7 185.0,44.6 185.5,43.6 186.0,42.6 186.5,41.7 187.0,40.9 187.5,40.0 188.0,39.2 188.5,38.5 189.0,37.7 189.5,37.1 190.0,36.5 190.5,36.0 191.0,35.5 191.5,35.1 192.0,34.6 192.5,34.2 193.0,33.7 193.5,33.3 194.0,33.0 194.5,32.6 195.0,32.4 195.5,32.1 196.0,31.9 196.5,31.8 197.0,31.8 197.5,31.8 198.0,31.9 198.5,32.0 199.0,32.1 199.5,32.3 200.0,32.4 200.5,32.6 201.0,32.9 201.5,33.1 202.0,33.4 202.5,33.6 203.0,33.9 203.5,34.2 204.0,34.5 204.5,34.9 205.0,35.4 205.5,36.0 206.0,36.6 206.5,37.2 207.0,37.9 207.5,38.6 208.0,39.4 208.5,40.2 209.0,41.0 209.5,42.0 210.0,43.0 210.5,44.1 211.0,45.2 211.5,46.4 212.0,47.5 212.5,48.6 213.0,49.8 213.5,50.9 214.0,52.1 214.5,53.4 215.0,54.8 215.5,56.2 216.0,57.7 216.5,59.2 217.0,60.7 217.5,62.3 218.0,63.9 218.5,65.6 219.0,67.2 219.5,69.0 220.0,70.7 220.5,72.5 221.0,74.2 221.5,76.0 222.0,77.8 222.5,79.7 223.0,81.5 223.5,83.3 224.0,85.2 224.5,87.0 225.0,88.9 225.5,90.8 226.0,92.7 226.5,94.6 227.0,96.6 227.5,98.5 228.0,100.5 228.5,102.5 229.0,104.5 229.5,106.6 230.0,108.6 230.5,110.7 231.0,112.9 231.5,115.1 232.0,117.2 232.5,119.5 233.0,121.8 233.5,124.1 234.0,126.4 234.5,128.8 235.0,131.2 235.5,133.7 236.0,136.3 236.5,139.0 237.0,141.8 237.5,144.7 238.0,147.7 238.5,150.8 239.0,153.9 239.5,157.1 240.0,160.3 240.5,163.5 241.0,166.7 241.5,169.9 242.0,173.0 242.5,176.1 243.0,179.1 243.5,182.0 244.0,184.8 244.5,187.6 245.0,190.4 245.5,193.2 246.0,196.0 246.5,198.8 247.0,201.6 247.5,204.4 248.0,207.1 248.5,209.7 249.0,212.2 249.5,214.6 250.0,216.9 250.5,219.1 251.0,221.1 251.5,222.9 252.0,224.6 252.5,226.1 253.0,227.5 253.5,228.9 254.0,230.2 254.5,231.4 255.0,232.7 255.5,234.0 256.0,235.3 256.5,236.6 257.0,237.8 257.5,239.0 258.0,240.2 258.5,241.4 259.0,242.6 259.5,243.8 260.0,244.9 260.5,246.1 261.0,247.2 261.5,248.3 262.0,249.4 262.5,250.5 263.0,251.7 263.5,252.9 264.0,254.2 264.5,255.5 265.0,256.8 265.5,258.1 266.0,259.4 266.5,260.6 267.0,261.7 267.5,262.8 268.0,263.9 268.5,264.9 269.0,265.9 269.5,266.8 270.0,267.8 270.5,268.7 271.0,269.5 271.5,270.4 272.0,271.2 272.5,272.0 273.0,272.8 273.5,273.6 274.0,274.2 274.5,274.8 275.0,275.3 275.5,275.8 276.0,276.3 276.5,276.7 277.0,277.1 277.5,277.4 278.0,277.7 278.5,278.0 279.0,278.2 279.5,278.5 280.0,278.7 280.5,278.9 281.0,279.1 281.5,279.3 282.0,279.5 282.5,279.7 283.0,279.9 283.5,280.0 284.0,280.2 284.5,280.4 285.0,280.5 285.5,280.7 286.0,280.8 286.5,281.0 287.0,281.1 287.5,281.2 288.0,281.4 288.5,281.5 289.0,281.6 289.5,281.8 290.0,281.9 290.5,282.0 291.0,282.1 291.5,282.2 292.0,282.3 292.5,282.4 293.0,282.5"/>
<path stroke="#98d25a" stroke-dasharray="4.2 3.4" stroke-dashoffset="1.2" d="M78.5,265.0 79.0,264.5 79.5,264.0 80.0,263.5 80.5,263.1 81.0,262.8 81.5,262.6 82.0,262.5 82.5,262.4 83.0,262.3 83.5,262.2 84.0,262.1 84.5,262.1 85.0,262.0 85.5,261.9 86.0,261.8 86.5,261.7 87.0,261.5 87.5,261.3 88.0,261.1 88.5,260.8 89.0,260.6 89.5,260.3 90.0,260.0 90.5,259.8 91.0,259.5 91.5,259.2 92.0,259.0 92.5,258.8 93.0,258.6 93.5,258.3 94.0,258.1 94.5,257.9 95.0,257.6 95.5,257.3 96.0,257.0 96.5,256.7 97.0,256.3 97.5,256.0 98.0,255.6 98.5,255.3 99.0,254.9 99.5,254.5 100.0,254.1 100.5,253.6 101.0,253.2 101.5,252.7 102.0,252.3 102.5,251.8 103.0,251.3 103.5,250.8 104.0,250.3 104.5,249.7 105.0,249.2 105.5,248.6 106.0,248.0 106.5,247.4 107.0,246.8 107.5,246.2 108.0,245.5 108.5,244.8 109.0,244.2 109.5,243.4 110.0,242.7 110.5,242.0 111.0,241.2 111.5,240.5 112.0,239.7 112.5,238.8 113.0,237.7 113.5,236.6 114.0,235.4 114.5,234.1 115.0,232.8 115.5,231.4 116.0,230.0 116.5,228.5 117.0,227.0 117.5,225.6 118.0,224.1 118.5,222.7 119.0,221.3 119.5,220.0 120.0,218.7 120.5,217.5 121.0,216.2 121.5,215.0 122.0,213.8 122.5,212.6 123.0,211.3 123.5,210.1 124.0,208.9 124.5,207.6 125.0,206.3 125.5,205.0 126.0,203.7 126.5,202.3 127.0,200.9 127.5,199.4 128.0,197.9 128.5,196.3 129.0,194.6 129.5,192.9 130.0,191.2 130.5,189.4 131.0,187.6 131.5,185.9 132.0,184.1 132.5,182.4 133.0,180.7 133.5,179.0 134.0,177.4 134.5,175.7 135.0,174.1 135.5,172.5 136.0,170.8 136.5,169.2 137.0,167.6 137.5,166.0 138.0,164.3 138.5,162.7 139.0,161.0 139.5,159.3 140.0,157.7 140.5,156.0 141.0,154.4 141.5,152.7 142.0,151.0 142.5,149.3 143.0,147.6 143.5,145.9 144.0,144.1 144.5,142.4 145.0,140.5 145.5,138.6 146.0,136.7 146.5,134.7 147.0,132.7 147.5,130.8 148.0,128.9 148.5,127.1 149.0,125.2 149.5,123.4 150.0,121.6 150.5,119.8 151.0,118.1 151.5,116.4 152.0,114.8 152.5,113.3 153.0,111.9 153.5,110.6 154.0,109.5 154.5,108.4 155.0,107.3 155.5,106.3 156.0,105.2 156.5,104.1 157.0,102.9 157.5,101.5 158.0,100.0 158.5,98.2 159.0,95.9 159.5,93.5 160.0,91.0 160.5,88.5 161.0,86.2 161.5,84.2 162.0,82.5 162.5,80.8 163.0,79.2 163.5,77.7 164.0,76.3 164.5,74.9 165.0,73.5 165.5,72.2 166.0,71.0 166.5,69.8 167.0,68.7 167.5,67.6 168.0,66.5 168.5,65.4 169.0,64.4 169.5,63.3 170.0,62.2 170.5,61.1 171.0,60.0 171.5,58.9 172.0,57.7 172.5,56.5 173.0,55.3 173.5,53.9 174.0,52.5 174.5,51.1 175.0,49.9 175.5,48.7 176.0,47.7 176.5,46.7 177.0,45.8 177.5,45.0 178.0,44.1 178.5,43.3 179.0,42.6 179.5,41.8 180.0,41.0 180.5,40.2 181.0,39.4 181.5,38.6 182.0,37.9 182.5,37.2 183.0,36.6 183.5,36.1 184.0,35.6 184.5,35.1 185.0,34.6 185.5,34.1 186.0,33.7 186.5,33.2 187.0,32.8 187.5,32.5 188.0,32.2 188.5,32.0 189.0,31.8 189.5,31.8 190.0,31.8 190.5,31.9 191.0,32.0 191.5,32.1 192.0,32.3 192.5,32.5 193.0,32.8 193.5,33.0 194.0,33.3 194.5,33.6 195.0,33.9 195.5,34.2 196.0,34.6 196.5,35.0 197.0,35.6 197.5,36.3 198.0,37.0 198.5,37.7 199.0,38.5 199.5,39.4 200.0,40.2 200.5,41.1 201.0,42.0 201.5,43.0 202.0,44.1 202.5,45.2 203.0,46.3 203.5,47.5 204.0,48.7 204.5,49.9 205.0,51.1 205.5,52.4 206.0,53.7 206.5,55.0 207.0,56.3 207.5,57.6 208.0,59.0 208.5,60.3 209.0,61.6 209.5,63.0 210.0,64.4 210.5,65.8 211.0,67.2 211.5,68.6 212.0,70.0 212.5,71.5 213.0,73.0 213.5,74.5 214.0,76.1 214.5,77.7 215.0,79.3 215.5,80.9 216.0,82.6 216.5,84.3 217.0,86.1 217.5,88.0 218.0,89.9 218.5,91.8 219.0,93.8 219.5,95.9 220.0,98.0 220.5,100.1 221.0,102.2 221.5,104.4 222.0,106.5 222.5,108.7 223.0,111.0 223.5,113.2 224.0,115.4 224.5,117.6 225.0,119.8 225.5,122.1 226.0,124.3 226.5,126.4 227.0,128.6 227.5,130.7 228.0,132.9 228.5,134.9 229.0,137.0 229.5,139.1 230.0,141.1 230.5,143.2 231.0,145.2 231.5,147.3 232.0,149.3 232.5,151.3 233.0,153.4 233.5,155.4 234.0,157.4 234.5,159.5 235.0,161.5 235.5,163.6 236.0,165.6 236.5,167.7 237.0,169.8 237.5,171.9 238.0,174.0 238.5,176.1 239.0,178.3 239.5,180.4 240.0,182.6 240.5,184.8 241.0,187.1 241.5,189.4 242.0,191.9 242.5,194.4 243.0,196.9 243.5,199.5 244.0,202.1 244.5,204.6 245.0,207.2 245.5,209.7 246.0,212.1 246.5,214.4 247.0,216.7 247.5,218.8 248.0,220.7 248.5,222.6 249.0,224.2 249.5,225.8 250.0,227.3 250.5,228.8 251.0,230.1 251.5,231.4 252.0,232.6 252.5,233.7 253.0,234.8 253.5,235.7 254.0,236.6 254.5,237.5 255.0,238.3 255.5,239.1 256.0,240.0 256.5,240.8 257.0,241.7 257.5,242.7 258.0,243.6 258.5,244.6 259.0,245.6 259.5,246.6 260.0,247.6 260.5,248.7 261.0,249.7 261.5,250.7 262.0,251.7 262.5,252.7 263.0,253.7 263.5,254.7 264.0,255.8 264.5,256.8 265.0,257.8 265.5,258.8 266.0,259.8 266.5,260.7 267.0,261.7 267.5,262.6 268.0,263.6 268.5,264.5 269.0,265.4 269.5,266.3 270.0,267.2 270.5,268.0 271.0,268.9 271.5,269.7 272.0,270.5 272.5,271.3 273.0,272.1 273.5,272.9 274.0,273.6 274.5,274.4 275.0,275.0 275.5,275.7 276.0,276.2 276.5,276.7 277.0,277.1 277.5,277.5 278.0,277.9 278.5,278.2 279.0,278.6 279.5,278.9 280.0,279.1 280.5,279.4 281.0,279.6 281.5,279.8 282.0,280.0 282.5,280.1 283.0,280.3 283.5,280.4 284.0,280.5 284.5,280.6 285.0,280.7 285.5,280.8 286.0,280.9 286.5,281.0 287.0,281.1 287.5,281.2 288.0,281.3 288.5,281.4 289.0,281.4 289.5,281.5 290.0,281.6 290.5,281.7 291.0,281.8 291.5,281.9 292.0,282.0 292.5,282.1 293.0,282.2 293.5,282.2 294.0,282.3 294.5,282.4 295.0,282.5 295.5,282.5 296.0,282.6 296.5,282.7 297.0,282.7 297.5,282.8 298.0,282.8 298.5,282.9 299.0,282.9 299.5,283.0 300.0,283.1 300.5,283.1 301.0,283.2 301.5,283.2 302.0,283.2 302.5,283.3 303.0,283.3 303.5,283.4 304.0,283.4 304.5,283.4 305.0,283.5 305.5,283.5 305.6,283.5"/>
<path stroke="#5f9040" d="M176.6,283.1 177.1,282.7 177.6,282.1 178.1,281.5 178.6,280.8 179.1,280.0 179.6,279.1 180.1,278.2 180.6,277.3 181.1,276.3 181.6,275.3 182.1,274.1 182.6,272.9 183.1,271.5 183.6,270.1 184.1,268.5 184.6,266.8 185.1,265.0 185.6,263.1 186.1,261.0 186.6,258.5 187.1,255.8 187.6,253.0 188.1,250.0 188.6,246.9 189.1,243.6 189.6,239.9 190.1,236.1 190.6,232.4 191.1,228.8 191.6,225.3 192.1,221.6 192.6,217.4 193.1,212.6 193.6,207.4 194.1,202.2 194.6,197.2 195.1,192.7 195.6,189.2 196.1,186.7 196.6,184.6 197.1,182.1 197.6,177.9 198.1,169.3 198.6,157.8 199.1,145.9 199.6,136.3 200.1,130.7 200.6,126.9 201.1,123.6 201.6,119.8 202.1,114.7 202.6,107.8 203.1,100.2 203.6,92.5 204.1,85.8 204.6,80.8 205.1,76.5 205.6,72.7 206.1,69.2 206.6,66.0 207.1,62.9 207.6,59.8 208.1,56.6 208.6,53.3 209.1,49.8 209.6,46.4 210.1,43.3 210.6,40.8 211.1,38.9 211.6,37.4 212.1,36.1 212.6,34.9 213.1,34.0 213.6,33.3 214.1,32.7 214.6,32.2 215.1,31.8 215.6,31.5 216.1,31.4 216.6,31.5 217.1,31.7 217.6,32.0 218.1,32.3 218.6,32.7 219.1,33.1 219.6,33.6 220.1,34.2 220.6,35.0 221.1,35.8 221.6,36.8 222.1,37.7 222.6,38.7 223.1,39.6 223.6,40.6 224.1,41.4 224.6,42.1 225.1,42.9 225.6,43.6 226.1,44.4 226.6,45.1 227.1,45.8 227.6,46.5 228.1,47.2 228.6,47.7 229.1,48.2 229.6,48.6 230.1,49.0 230.6,49.2 231.1,49.5 231.6,49.7 232.1,50.0 232.6,50.2 233.1,50.3 233.6,50.4 234.1,50.5 234.6,50.5 235.1,50.4 235.6,50.2 236.1,49.9 236.6,49.7 237.1,49.5 237.6,49.4 238.1,49.4 238.6,49.5 239.1,49.7 239.6,49.8 240.1,50.0 240.6,50.3 241.1,50.5 241.6,50.8 242.1,51.1 242.6,51.3 243.1,51.6 243.6,52.0 244.1,52.4 244.6,52.8 245.1,53.3 245.6,53.9 246.1,54.5 246.6,55.2 247.1,56.2 247.6,57.4 248.1,58.8 248.6,60.3 249.1,61.7 249.6,63.1 250.1,64.6 250.6,66.0 251.1,67.5 251.6,69.1 252.1,70.6 252.6,72.2 253.1,73.9 253.6,75.5 254.1,77.2 254.6,78.9 255.1,80.7 255.6,82.5 256.1,84.3 256.6,86.2 257.1,88.1 257.6,90.1 258.1,92.3 258.6,94.5 259.1,97.0 259.6,99.7 260.1,102.6 260.6,105.6 261.1,108.6 261.6,111.7 262.1,114.9 262.6,118.3 263.1,122.1 263.6,125.6 264.1,127.3 264.6,124.0 265.1,120.1 265.6,120.0 266.1,122.0 266.6,125.2 267.1,127.0 267.6,128.1 268.1,129.2 268.6,130.4 269.1,131.5 269.6,132.6 270.1,133.8 270.6,134.9 271.1,136.2 271.6,137.6 272.1,139.1 272.6,140.6 273.1,142.1 273.6,143.7 274.1,145.3 274.6,146.9 275.1,148.4 275.6,149.9 276.1,151.3 276.6,152.7 277.1,153.9 277.6,155.2 278.1,156.4 278.6,157.6 279.1,158.8 279.6,160.0 280.1,161.2 280.6,162.4 281.1,163.6 281.6,164.8 282.1,166.0 282.6,167.2 283.1,168.4 283.6,169.6 284.1,170.9 284.6,172.3 285.1,173.8 285.6,175.4 286.1,177.1 286.6,178.6 287.1,180.1 287.6,181.3 288.1,182.4 288.6,183.3 289.1,184.1 289.6,185.0 290.1,185.9 290.6,186.7 291.1,187.7 291.6,189.2 292.1,192.0 292.6,194.6 293.1,196.9 293.6,199.0 294.1,200.7 294.6,202.1 295.1,203.5 295.6,204.8 296.1,205.7 296.6,206.2 297.1,205.9 297.6,205.1 298.1,204.0 298.6,203.0 299.1,202.5 299.6,202.6 300.1,203.1 300.6,203.8 301.1,204.6 301.6,205.5 302.1,206.4 302.6,207.2 303.1,208.0 303.6,209.0 304.1,210.0 304.6,211.2 305.1,212.5 305.6,214.7 306.1,217.3 306.6,219.7 307.1,221.0 307.6,220.8 308.1,220.1 308.6,219.6 309.1,219.8 309.6,220.3 310.1,221.2 310.6,222.3 311.1,223.5 311.6,224.7 312.1,225.8 312.6,226.6 313.1,227.4 313.6,228.2 314.1,229.0 314.6,229.7 315.1,230.5 315.6,231.2 316.1,231.9 316.6,232.6 317.1,233.3 317.6,234.0 318.1,234.7 318.6,235.4 319.1,236.0 319.6,236.7 320.1,237.3 320.6,237.9 321.1,238.6 321.6,239.2 322.1,239.8 322.6,240.4 323.1,241.0 323.6,241.6 324.1,242.1 324.6,242.7 325.1,243.3 325.6,243.8 326.1,244.4 326.6,244.9 327.1,245.4 327.6,245.9 328.1,246.4 328.6,246.9 329.1,247.4 329.6,247.9 330.1,248.3 330.6,248.8 331.1,249.2 331.6,249.6 332.1,249.9 332.6,250.3 333.1,250.7 333.6,251.0 334.1,251.3 334.6,251.7 335.1,252.0 335.6,252.3 336.1,252.6 336.6,253.0 337.1,253.3 337.6,253.6 338.1,253.9 338.6,254.3 339.1,254.6 339.6,254.9 340.1,255.3 340.6,255.6 341.1,256.0 341.6,256.4 342.1,256.7 342.6,257.1 343.1,257.4 343.6,257.7 344.1,258.1 344.6,258.4 345.1,258.7 345.6,259.1 346.1,259.4 346.6,259.7 347.1,260.0 347.6,260.4 348.1,260.7 348.6,261.0 349.1,261.3 349.6,261.6 350.1,261.9 350.6,262.2 351.1,262.5 351.6,262.8 352.1,263.1 352.6,263.3 353.1,263.6 353.6,263.9 354.1,264.2 354.6,264.5 355.1,264.7 355.6,265.0 356.1,265.3 356.6,265.5 357.1,265.8 357.6,266.0 358.1,266.3 358.6,266.5 359.1,266.8 359.6,267.0 360.1,267.3 360.6,267.5 361.1,267.7 361.6,268.0 362.1,268.2 362.6,268.4 363.1,268.7 363.6,268.9 364.1,269.1 364.6,269.3 365.1,269.6 365.6,269.8 366.1,270.0 366.6,270.2 367.1,270.4 367.6,270.6 368.1,270.8 368.6,271.0 369.1,271.2 369.6,271.4 370.1,271.6 370.6,271.8 371.1,272.0 371.6,272.2 372.1,272.3 372.6,272.5 373.1,272.7 373.6,272.9 374.1,273.1 374.6,273.2 375.1,273.4 375.6,273.6 376.1,273.7 376.6,273.9 377.1,274.1 377.6,274.2 378.1,274.4 378.6,274.5 379.1,274.7 379.6,274.8 380.1,275.0 380.6,275.1 381.1,275.3 381.6,275.4 382.1,275.6 382.6,275.7 383.1,275.9 383.6,276.0 384.1,276.1 384.6,276.3 385.1,276.4 385.6,276.5 386.1,276.7 386.6,276.8 387.1,276.9 387.6,277.0 388.1,277.2 388.6,277.3 389.1,277.4 389.6,277.5 390.1,277.6 390.6,277.8 391.1,277.9 391.6,278.0 392.1,278.1 392.6,278.2 393.1,278.3 393.6,278.4 394.1,278.5 394.6,278.6 395.1,278.7 395.6,278.8 396.1,278.9 396.6,279.0 397.1,279.1 397.6,279.2 398.1,279.3 398.6,279.4 399.1,279.5 399.6,279.6 400.1,279.6 400.6,279.7 401.1,279.8 401.6,279.9 402.1,280.0 402.6,280.0 403.1,280.1 403.6,280.2 404.1,280.3 404.6,280.3 405.1,280.4 405.6,280.5 406.1,280.6 406.6,280.6 407.1,280.7 407.6,280.8 408.1,280.8 408.6,280.9 409.1,281.0 409.6,281.0 410.1,281.1 410.6,281.1 411.1,281.2 411.6,281.3 412.1,281.3 412.6,281.4 413.1,281.4 413.6,281.5 414.1,281.5 414.6,281.6 415.1,281.6 415.6,281.7 416.1,281.7 416.6,281.8 417.1,281.8 417.6,281.9 418.1,281.9 418.6,282.0 419.1,282.0 419.6,282.0 420.1,282.1 420.6,282.1 421.1,282.2 421.6,282.2 422.1,282.2 422.6,282.3 423.1,282.3 423.6,282.4 424.1,282.4 424.6,282.4 425.1,282.5 425.6,282.5 426.1,282.5 426.6,282.6 427.1,282.6 427.6,282.6 428.1,282.7 428.6,282.7 429.1,282.7 429.6,282.7 430.1,282.8 430.6,282.8 431.1,282.8 431.6,282.9 432.1,282.9 432.6,282.9 433.1,282.9 433.6,283.0 434.1,283.0 434.6,283.0 435.1,283.0 435.6,283.0 436.1,283.1 436.6,283.1 437.1,283.1 437.6,283.1 438.1,283.2 438.6,283.2 439.1,283.2 439.6,283.2 440.1,283.2 440.6,283.3 441.1,283.3 441.6,283.3 442.1,283.3 442.6,283.3 443.1,283.3 443.6,283.4 444.1,283.4 444.6,283.4 445.1,283.4 445.6,283.4 446.1,283.5 446.6,283.5 447.1,283.5 447.6,283.5 448.1,283.5 448.6,283.5 449.1,283.6 449.6,283.6 450.1,283.6 450.6,283.6 451.1,283.6 451.6,283.6 452.1,283.7 452.6,283.7 453.1,283.7 453.6,283.7 454.1,283.7 454.6,283.7 455.1,283.8 455.6,283.8 456.1,283.8 456.6,283.8 457.1,283.8 457.6,283.9 458.1,283.9 458.6,283.9 459.1,283.9 459.6,283.9 460.1,283.9 460.6,284.0 461.1,284.0 461.6,284.0 462.1,284.0 462.6,284.1 463.1,284.1 463.6,284.1 464.1,284.1 464.6,284.1 465.1,284.2 465.6,284.2 466.1,284.2 466.6,284.2 467.1,284.3 467.6,284.3 468.1,284.3 468.6,284.3 469.1,284.4 469.6,284.4 470.1,284.4 470.6,284.4 471.1,284.5 471.6,284.5 472.1,284.5 472.6,284.6 473.1,284.6 473.6,284.6 474.1,284.7 474.6,284.7 475.1,284.7 475.6,284.8 476.1,284.8 476.6,284.8 477.1,284.9 477.6,284.9 478.1,284.9 478.6,285.0 479.1,285.0 479.6,285.1 480.1,285.1 480.6,285.2 481.1,285.2 481.6,285.2 482.1,285.3 482.6,285.3 483.1,285.4 483.6,285.4 484.1,285.5 484.6,285.5 485.1,285.6 485.6,285.6 486.1,285.7 486.6,285.7 487.1,285.8 487.6,285.8 488.1,285.9 488.6,286.0 489.0,286.0"/>
<path stroke="#fdbf10" d="M176.5,286.8 177.0,286.7 177.5,286.7 178.0,286.6 178.5,286.5 179.0,286.4 179.5,286.3 180.0,286.2 180.5,286.1 181.0,286.0 181.5,285.9 182.0,285.8 182.5,285.7 183.0,285.6 183.5,285.5 184.0,285.4 184.5,285.3 185.0,285.1 185.5,285.0 186.0,284.9 186.5,284.8 187.0,284.7 187.5,284.5 188.0,284.4 188.5,284.3 189.0,284.2 189.5,284.0 190.0,283.9 190.5,283.7 191.0,283.5 191.5,283.3 192.0,283.1 192.5,282.9 193.0,282.6 193.5,282.3 194.0,281.9 194.5,281.4 195.0,280.8 195.5,280.2 196.0,279.6 196.5,278.9 197.0,278.2 197.5,277.5 198.0,276.9 198.5,276.2 199.0,275.6 199.5,275.0 200.0,274.3 200.5,273.6 201.0,272.9 201.5,272.1 202.0,271.2 202.5,270.3 203.0,269.3 203.5,268.0 204.0,266.6 204.5,265.1 205.0,263.5 205.5,261.9 206.0,260.3 206.5,258.4 207.0,256.6 207.5,254.8 208.0,253.3 208.5,252.2 209.0,251.3 209.5,250.0 210.0,247.5 210.5,244.4 211.0,241.3 211.5,238.1 212.0,235.2 212.5,232.5 213.0,230.0 213.5,227.7 214.0,225.4 214.5,223.4 215.0,221.6 215.5,219.8 216.0,217.9 216.5,215.5 217.0,212.5 217.5,208.7 218.0,204.4 218.5,199.6 219.0,194.6 219.5,189.6 220.0,184.8 220.5,180.1 221.0,175.3 221.5,170.4 222.0,165.4 222.5,160.4 223.0,155.5 223.5,150.5 224.0,145.7 224.5,140.9 225.0,136.4 225.5,131.9 226.0,127.5 226.5,123.1 227.0,118.7 227.5,114.3 228.0,110.0 228.5,105.7 229.0,101.6 229.5,97.7 230.0,93.9 230.5,90.3 231.0,86.9 231.5,83.8 232.0,80.9 232.5,78.3 233.0,75.8 233.5,73.5 234.0,71.3 234.5,69.2 235.0,67.2 235.5,65.1 236.0,63.1 236.5,61.0 237.0,58.8 237.5,56.5 238.0,53.9 238.5,51.0 239.0,48.0 239.5,45.1 240.0,42.4 240.5,40.3 241.0,38.9 241.5,37.8 242.0,36.9 242.5,36.1 243.0,35.4 243.5,34.8 244.0,34.4 244.5,34.0 245.0,33.6 245.5,33.3 246.0,33.0 246.5,32.7 247.0,32.4 247.5,32.2 248.0,32.0 248.5,31.8 249.0,31.6 249.5,31.5 250.0,31.5 250.5,31.5 251.0,31.6 251.5,31.8 252.0,32.0 252.5,32.3 253.0,32.6 253.5,32.9 254.0,33.2 254.5,33.6 255.0,34.1 255.5,34.7 256.0,35.2 256.5,35.7 257.0,36.2 257.5,36.5 258.0,36.9 258.5,37.2 259.0,37.5 259.5,37.8 260.0,38.1 260.5,38.5 261.0,39.0 261.5,39.5 262.0,40.1 262.5,40.7 263.0,41.4 263.5,42.0 264.0,42.8 264.5,43.5 265.0,44.2 265.5,44.9 266.0,45.6 266.5,46.3 267.0,46.9 267.5,47.6 268.0,48.3 268.5,49.0 269.0,49.7 269.5,50.4 270.0,51.1 270.5,51.9 271.0,52.7 271.5,53.5 272.0,54.3 272.5,55.2 273.0,56.1 273.5,57.0 274.0,57.9 274.5,58.8 275.0,59.8 275.5,60.8 276.0,61.8 276.5,62.8 277.0,63.9 277.5,64.9 278.0,66.0 278.5,67.0 279.0,68.1 279.5,69.2 280.0,70.3 280.5,71.4 281.0,72.5 281.5,73.6 282.0,74.7 282.5,75.8 283.0,76.9 283.5,78.0 284.0,79.1 284.5,80.2 285.0,81.3 285.5,82.4 286.0,83.5 286.5,84.7 287.0,85.8 287.5,87.0 288.0,88.2 288.5,89.4 289.0,90.7 289.5,92.0 290.0,93.3 290.5,94.7 291.0,96.1 291.5,97.5 292.0,98.9 292.5,100.4 293.0,101.9 293.5,103.3 294.0,104.8 294.5,106.3 295.0,107.7 295.5,109.2 296.0,110.6 296.5,112.1 297.0,113.6 297.5,115.2 298.0,116.8 298.5,118.5 299.0,120.4 299.5,122.4 300.0,124.5 300.5,126.6 301.0,128.5 301.5,130.1 302.0,131.6 302.5,133.1 303.0,134.6 303.5,136.0 304.0,137.4 304.5,138.8 305.0,140.2 305.5,141.5 306.0,142.8 306.5,144.1 307.0,145.4 307.5,146.6 308.0,147.9 308.5,149.1 309.0,150.4 309.5,151.6 310.0,152.8 310.5,154.1 311.0,155.4 311.5,156.6 312.0,157.9 312.5,159.1 313.0,160.3 313.5,161.5 314.0,162.7 314.5,163.9 315.0,165.1 315.5,166.2 316.0,167.3 316.5,168.4 317.0,169.5 317.5,170.6 318.0,171.7 318.5,172.7 319.0,173.8 319.5,174.8 320.0,175.8 320.5,176.8 321.0,177.8 321.5,178.8 322.0,179.7 322.5,180.7 323.0,181.7 323.5,182.6 324.0,183.6 324.5,184.5 325.0,185.4 325.5,186.4 326.0,187.3 326.5,188.2 327.0,189.2 327.5,190.1 328.0,191.1 328.5,192.0 329.0,192.9 329.5,193.9 330.0,194.8 330.5,195.8 331.0,196.8 331.5,197.7 332.0,198.7 332.5,199.7 333.0,200.6 333.5,201.6 334.0,202.5 334.5,203.5 335.0,204.4 335.5,205.3 336.0,206.3 336.5,207.2 337.0,208.1 337.5,208.9 338.0,209.8 338.5,210.7 339.0,211.5 339.5,212.4 340.0,213.2 340.5,214.0 341.0,214.9 341.5,215.7 342.0,216.5 342.5,217.3 343.0,218.0 343.5,218.8 344.0,219.6 344.5,220.3 345.0,221.1 345.5,221.8 346.0,222.5 346.5,223.3 347.0,224.0 347.5,224.7 348.0,225.4 348.5,226.1 349.0,226.7 349.5,227.4 350.0,228.1 350.5,228.7 351.0,229.4 351.5,230.0 352.0,230.6 352.5,231.3 353.0,231.9 353.5,232.5 354.0,233.1 354.5,233.7 355.0,234.3 355.5,234.8 356.0,235.4 356.5,236.0 357.0,236.5 357.5,237.1 358.0,237.6 358.5,238.2 359.0,238.7 359.5,239.2 360.0,239.8 360.5,240.3 361.0,240.8 361.5,241.3 362.0,241.8 362.5,242.3 363.0,242.8 363.5,243.2 364.0,243.7 364.5,244.2 365.0,244.6 365.5,245.1 366.0,245.6 366.5,246.0 367.0,246.4 367.5,246.9 368.0,247.3 368.5,247.7 369.0,248.2 369.5,248.6 370.0,249.0 370.5,249.4 371.0,249.8 371.5,250.2 372.0,250.6 372.5,251.0 373.0,251.4 373.5,251.8 374.0,252.1 374.5,252.5 375.0,252.9 375.5,253.3 376.0,253.6 376.5,254.0 377.0,254.3 377.5,254.7 378.0,255.1 378.5,255.4 379.0,255.7 379.5,256.1 380.0,256.4 380.5,256.8 381.0,257.1 381.5,257.4 382.0,257.7 382.5,258.1 383.0,258.4 383.5,258.7 384.0,259.0 384.5,259.3 385.0,259.6 385.5,259.9 386.0,260.2 386.5,260.5 387.0,260.8 387.5,261.1 388.0,261.4 388.5,261.6 389.0,261.9 389.5,262.2 390.0,262.5 390.5,262.7 391.0,263.0 391.5,263.3 392.0,263.5 392.5,263.8 393.0,264.1 393.5,264.3 394.0,264.6 394.5,264.8 395.0,265.1 395.5,265.3 396.0,265.5 396.5,265.8 397.0,266.0 397.5,266.2 398.0,266.5 398.5,266.7 399.0,266.9 399.5,267.1 400.0,267.3 400.5,267.6 401.0,267.8 401.5,268.0 402.0,268.2 402.5,268.4 403.0,268.6 403.5,268.8 404.0,269.0 404.5,269.2 405.0,269.4 405.5,269.6 406.0,269.8 406.5,269.9 407.0,270.1 407.5,270.3 408.0,270.5 408.5,270.7 409.0,270.8 409.5,271.0 410.0,271.2 410.5,271.3 411.0,271.5 411.5,271.7 412.0,271.8 412.5,272.0 413.0,272.2 413.5,272.3 414.0,272.5 414.5,272.6 415.0,272.8 415.5,272.9 416.0,273.1 416.5,273.2 417.0,273.3 417.5,273.5 418.0,273.6 418.5,273.8 419.0,273.9 419.5,274.0 420.0,274.1 420.5,274.3 421.0,274.4 421.5,274.5 422.0,274.7 422.5,274.8 423.0,274.9 423.5,275.0 424.0,275.1 424.5,275.2 425.0,275.4 425.5,275.5 426.0,275.6 426.5,275.7 427.0,275.8 427.5,275.9 428.0,276.0 428.5,276.1 429.0,276.2 429.5,276.3 430.0,276.4 430.5,276.5 431.0,276.6 431.5,276.7 432.0,276.8 432.5,276.9 433.0,277.0 433.5,277.1 434.0,277.2 434.5,277.2 435.0,277.3 435.5,277.4 436.0,277.5 436.5,277.6 437.0,277.7 437.5,277.7 438.0,277.8 438.5,277.9 439.0,278.0 439.5,278.1 440.0,278.1 440.5,278.2 441.0,278.3 441.5,278.4 442.0,278.4 442.5,278.5 443.0,278.6 443.5,278.6 444.0,278.7 444.5,278.8 445.0,278.8 445.5,278.9 446.0,279.0 446.5,279.0 447.0,279.1 447.5,279.2 448.0,279.2 448.5,279.3 449.0,279.4 449.5,279.4 450.0,279.5 450.5,279.5 451.0,279.6 451.5,279.7 452.0,279.7 452.5,279.8 453.0,279.8 453.5,279.9 454.0,279.9 454.5,280.0 455.0,280.1 455.5,280.1 456.0,280.2 456.5,280.2 457.0,280.3 457.5,280.3 458.0,280.4 458.5,280.4 459.0,280.5 459.5,280.5 460.0,280.6 460.5,280.7 461.0,280.7 461.5,280.8 462.0,280.8 462.5,280.9 463.0,280.9 463.5,281.0 464.0,281.0 464.5,281.1 465.0,281.1 465.5,281.2 466.0,281.2 466.5,281.3 467.0,281.3 467.5,281.4 468.0,281.5 468.5,281.5 469.0,281.6 469.5,281.6 470.0,281.7 470.5,281.7 471.0,281.8 471.5,281.8 472.0,281.9 472.5,281.9 473.0,282.0 473.5,282.1 474.0,282.1 474.5,282.2 475.0,282.2 475.5,282.3 476.0,282.3 476.5,282.4 477.0,282.5 477.5,282.5 478.0,282.6 478.5,282.7 479.0,282.7 479.5,282.8 480.0,282.8 480.5,282.9 481.0,283.0 481.5,283.0 482.0,283.1 482.5,283.2 483.0,283.2 483.5,283.3 484.0,283.4 484.5,283.4 485.0,283.5 485.5,283.6 486.0,283.7 486.5,283.7 487.0,283.8 487.5,283.9 488.0,284.0 488.5,284.0 489.0,284.1"/>
<path stroke="#14acec" d="M176.5,287.0 177.0,287.0 177.5,287.0 178.0,287.0 178.5,287.0 179.0,287.0 179.5,287.0 180.0,286.9 180.5,286.9 181.0,286.9 181.5,286.9 182.0,286.9 182.5,286.8 183.0,286.8 183.5,286.8 184.0,286.7 184.5,286.7 185.0,286.7 185.5,286.6 186.0,286.6 186.5,286.6 187.0,286.5 187.5,286.5 188.0,286.4 188.5,286.4 189.0,286.3 189.5,286.3 190.0,286.2 190.5,286.2 191.0,286.1 191.5,286.0 192.0,286.0 192.5,285.9 193.0,285.9 193.5,285.8 194.0,285.7 194.5,285.7 195.0,285.6 195.5,285.5 196.0,285.4 196.5,285.3 197.0,285.2 197.5,285.1 198.0,285.0 198.5,284.8 199.0,284.6 199.5,284.4 200.0,284.2 200.5,284.0 201.0,283.8 201.5,283.6 202.0,283.3 202.5,283.1 203.0,282.8 203.5,282.5 204.0,282.3 204.5,282.0 205.0,281.7 205.5,281.4 206.0,281.1 206.5,280.7 207.0,280.4 207.5,280.0 208.0,279.5 208.5,279.1 209.0,278.6 209.5,278.1 210.0,277.6 210.5,277.0 211.0,276.4 211.5,275.7 212.0,275.0 212.5,274.1 213.0,273.2 213.5,272.2 214.0,271.1 214.5,270.0 215.0,268.9 215.5,267.8 216.0,266.5 216.5,265.2 217.0,263.7 217.5,262.3 218.0,260.7 218.5,259.1 219.0,257.4 219.5,255.5 220.0,253.6 220.5,251.7 221.0,249.8 221.5,247.8 222.0,245.5 222.5,242.9 223.0,240.1 223.5,237.3 224.0,234.7 224.5,232.1 225.0,229.6 225.5,227.2 226.0,225.0 226.5,222.9 227.0,221.1 227.5,219.2 228.0,217.2 228.5,215.0 229.0,212.4 229.5,209.5 230.0,206.3 230.5,202.9 231.0,199.4 231.5,195.8 232.0,192.3 232.5,188.8 233.0,185.4 233.5,182.2 234.0,179.1 234.5,175.9 235.0,172.8 235.5,169.7 236.0,166.6 236.5,163.5 237.0,160.4 237.5,157.3 238.0,154.2 238.5,151.1 239.0,147.9 239.5,144.7 240.0,141.5 240.5,138.3 241.0,135.0 241.5,131.7 242.0,128.2 242.5,124.6 243.0,120.9 243.5,117.2 244.0,113.4 244.5,109.6 245.0,105.9 245.5,102.2 246.0,98.6 246.5,95.0 247.0,91.7 247.5,88.4 248.0,85.4 248.5,82.6 249.0,80.0 249.5,77.4 250.0,75.0 250.5,72.6 251.0,70.4 251.5,68.2 252.0,66.0 252.5,63.9 253.0,61.9 253.5,59.9 254.0,57.9 254.5,56.0 255.0,54.0 255.5,52.1 256.0,50.1 256.5,48.2 257.0,46.4 257.5,44.8 258.0,43.4 258.5,42.2 259.0,41.1 259.5,40.1 260.0,39.1 260.5,38.2 261.0,37.4 261.5,36.7 262.0,36.0 262.5,35.5 263.0,35.0 263.5,34.6 264.0,34.1 264.5,33.7 265.0,33.2 265.5,32.8 266.0,32.5 266.5,32.2 267.0,31.9 267.5,31.7 268.0,31.6 268.5,31.5 269.0,31.5 269.5,31.7 270.0,32.0 270.5,32.4 271.0,32.9 271.5,33.5 272.0,34.0 272.5,34.6 273.0,35.2 273.5,35.7 274.0,36.2 274.5,36.6 275.0,37.1 275.5,37.6 276.0,38.1 276.5,38.6 277.0,39.1 277.5,39.6 278.0,40.2 278.5,40.8 279.0,41.4 279.5,42.1 280.0,42.8 280.5,43.5 281.0,44.3 281.5,45.0 282.0,45.8 282.5,46.5 283.0,47.2 283.5,48.0 284.0,48.8 284.5,49.5 285.0,50.3 285.5,51.2 286.0,52.0 286.5,52.9 287.0,53.9 287.5,54.9 288.0,55.9 288.5,57.0 289.0,58.1 289.5,59.2 290.0,60.4 290.5,61.5 291.0,62.8 291.5,64.0 292.0,65.2 292.5,66.5 293.0,67.8 293.5,69.1 294.0,70.4 294.5,71.6 295.0,72.9 295.5,74.2 296.0,75.5 296.5,76.8 297.0,78.0 297.5,79.3 298.0,80.5 298.5,81.7 299.0,82.9 299.5,84.1 300.0,85.3 300.5,86.6 301.0,87.8 301.5,89.0 302.0,90.2 302.5,91.5 303.0,92.7 303.5,94.0 304.0,95.3 304.5,96.6 305.0,97.9 305.5,99.2 306.0,100.6 306.5,102.0 307.0,103.4 307.5,104.8 308.0,106.2 308.5,107.6 309.0,109.0 309.5,110.3 310.0,111.7 310.5,113.0 311.0,114.4 311.5,115.7 312.0,117.0 312.5,118.3 313.0,119.6 313.5,120.9 314.0,122.2 314.5,123.5 315.0,124.8 315.5,126.1 316.0,127.4 316.5,128.7 317.0,130.0 317.5,131.4 318.0,132.7 318.5,134.0 319.0,135.3 319.5,136.6 320.0,137.9 320.5,139.2 321.0,140.5 321.5,141.8 322.0,143.1 322.5,144.4 323.0,145.6 323.5,146.9 324.0,148.1 324.5,149.3 325.0,150.5 325.5,151.8 326.0,153.0 326.5,154.2 327.0,155.4 327.5,156.6 328.0,157.8 328.5,159.0 329.0,160.2 329.5,161.4 330.0,162.6 330.5,163.8 331.0,164.9 331.5,166.1 332.0,167.2 332.5,168.4 333.0,169.5 333.5,170.7 334.0,171.8 334.5,172.9 335.0,174.1 335.5,175.2 336.0,176.3 336.5,177.4 337.0,178.5 337.5,179.6 338.0,180.6 338.5,181.7 339.0,182.8 339.5,183.8 340.0,184.9 340.5,185.9 341.0,187.0 341.5,188.0 342.0,189.0 342.5,190.1 343.0,191.1 343.5,192.1 344.0,193.1 344.5,194.0 345.0,195.0 345.5,196.0 346.0,197.0 346.5,197.9 347.0,198.9 347.5,199.8 348.0,200.7 348.5,201.7 349.0,202.6 349.5,203.5 350.0,204.4 350.5,205.3 351.0,206.1 351.5,207.0 352.0,207.9 352.5,208.7 353.0,209.6 353.5,210.4 354.0,211.2 354.5,212.1 355.0,212.9 355.5,213.7 356.0,214.5 356.5,215.2 357.0,216.0 357.5,216.8 358.0,217.5 358.5,218.3 359.0,219.0 359.5,219.8 360.0,220.5 360.5,221.2 361.0,221.9 361.5,222.6 362.0,223.3 362.5,224.0 363.0,224.7 363.5,225.4 364.0,226.1 364.5,226.7 365.0,227.4 365.5,228.0 366.0,228.7 366.5,229.3 367.0,229.9 367.5,230.5 368.0,231.2 368.5,231.8 369.0,232.4 369.5,233.0 370.0,233.6 370.5,234.1 371.0,234.7 371.5,235.3 372.0,235.9 372.5,236.4 373.0,237.0 373.5,237.5 374.0,238.0 374.5,238.6 375.0,239.1 375.5,239.6 376.0,240.2 376.5,240.7 377.0,241.2 377.5,241.7 378.0,242.2 378.5,242.7 379.0,243.1 379.5,243.6 380.0,244.1 380.5,244.6 381.0,245.0 381.5,245.5 382.0,245.9 382.5,246.4 383.0,246.8 383.5,247.3 384.0,247.7 384.5,248.1 385.0,248.5 385.5,249.0 386.0,249.4 386.5,249.8 387.0,250.2 387.5,250.6 388.0,251.0 388.5,251.4 389.0,251.8 389.5,252.1 390.0,252.5 390.5,252.9 391.0,253.3 391.5,253.6 392.0,254.0 392.5,254.4 393.0,254.7 393.5,255.1 394.0,255.4 394.5,255.7 395.0,256.1 395.5,256.4 396.0,256.7 396.5,257.1 397.0,257.4 397.5,257.7 398.0,258.0 398.5,258.3 399.0,258.7 399.5,259.0 400.0,259.3 400.5,259.6 401.0,259.9 401.5,260.2 402.0,260.4 402.5,260.7 403.0,261.0 403.5,261.3 404.0,261.6 404.5,261.9 405.0,262.1 405.5,262.4 406.0,262.7 406.5,262.9 407.0,263.2 407.5,263.5 408.0,263.7 408.5,264.0 409.0,264.2 409.5,264.5 410.0,264.7 410.5,265.0 411.0,265.2 411.5,265.4 412.0,265.7 412.5,265.9 413.0,266.1 413.5,266.3 414.0,266.6 414.5,266.8 415.0,267.0 415.5,267.2 416.0,267.4 416.5,267.7 417.0,267.9 417.5,268.1 418.0,268.3 418.5,268.5 419.0,268.7 419.5,268.9 420.0,269.1 420.5,269.3 421.0,269.5 421.5,269.6 422.0,269.8 422.5,270.0 423.0,270.2 423.5,270.4 424.0,270.5 424.5,270.7 425.0,270.9 425.5,271.1 426.0,271.2 426.5,271.4 427.0,271.6 427.5,271.7 428.0,271.9 428.5,272.0 429.0,272.2 429.5,272.4 430.0,272.5 430.5,272.7 431.0,272.8 431.5,272.9 432.0,273.1 432.5,273.2 433.0,273.4 433.5,273.5 434.0,273.6 434.5,273.8 435.0,273.9 435.5,274.0 436.0,274.2 436.5,274.3 437.0,274.4 437.5,274.6 438.0,274.7 438.5,274.8 439.0,274.9 439.5,275.0 440.0,275.2 440.5,275.3 441.0,275.4 441.5,275.5 442.0,275.6 442.5,275.7 443.0,275.8 443.5,275.9 444.0,276.0 444.5,276.1 445.0,276.2 445.5,276.3 446.0,276.4 446.5,276.5 447.0,276.6 447.5,276.7 448.0,276.8 448.5,276.9 449.0,277.0 449.5,277.1 450.0,277.2 450.5,277.3 451.0,277.4 451.5,277.5 452.0,277.5 452.5,277.6 453.0,277.7 453.5,277.8 454.0,277.9 454.5,277.9 455.0,278.0 455.5,278.1 456.0,278.2 456.5,278.3 457.0,278.3 457.5,278.4 458.0,278.5 458.5,278.5 459.0,278.6 459.5,278.7 460.0,278.8 460.5,278.8 461.0,278.9 461.5,279.0 462.0,279.0 462.5,279.1 463.0,279.2 463.5,279.2 464.0,279.3 464.5,279.3 465.0,279.4 465.5,279.5 466.0,279.5 466.5,279.6 467.0,279.6 467.5,279.7 468.0,279.8 468.5,279.8 469.0,279.9 469.5,279.9 470.0,280.0 470.5,280.0 471.0,280.1 471.5,280.2 472.0,280.2 472.5,280.3 473.0,280.3 473.5,280.4 474.0,280.4 474.5,280.5 475.0,280.5 475.5,280.6 476.0,280.6 476.5,280.7 477.0,280.8 477.5,280.8 478.0,280.9 478.5,280.9 479.0,281.0 479.5,281.0 480.0,281.1 480.5,281.1 481.0,281.2 481.5,281.2 482.0,281.3 482.5,281.3 483.0,281.4 483.5,281.4 484.0,281.5 484.5,281.5 485.0,281.6 485.5,281.6 486.0,281.7 486.5,281.7 487.0,281.8 487.5,281.8 488.0,281.9 488.5,282.0 489.0,282.0"/>
<path stroke="#7d42b8" d="M176.5,287.0 177.0,287.0 177.5,287.0 178.0,287.0 178.5,287.0 179.0,287.0 179.5,287.0 180.0,287.0 180.5,287.0 181.0,287.0 181.5,287.0 182.0,287.0 182.5,286.9 183.0,286.9 183.5,286.9 184.0,286.9 184.5,286.9 185.0,286.9 185.5,286.9 186.0,286.9 186.5,286.9 187.0,286.9 187.5,286.8 188.0,286.8 188.5,286.8 189.0,286.8 189.5,286.8 190.0,286.8 190.5,286.8 191.0,286.7 191.5,286.7 192.0,286.7 192.5,286.7 193.0,286.7 193.5,286.7 194.0,286.6 194.5,286.6 195.0,286.6 195.5,286.6 196.0,286.6 196.5,286.5 197.0,286.5 197.5,286.5 198.0,286.5 198.5,286.4 199.0,286.4 199.5,286.4 200.0,286.3 200.5,286.3 201.0,286.3 201.5,286.2 202.0,286.2 202.5,286.1 203.0,286.1 203.5,286.0 204.0,285.9 204.5,285.9 205.0,285.8 205.5,285.7 206.0,285.6 206.5,285.4 207.0,285.2 207.5,285.0 208.0,284.7 208.5,284.5 209.0,284.2 209.5,283.8 210.0,283.5 210.5,283.1 211.0,282.8 211.5,282.4 212.0,282.0 212.5,281.6 213.0,281.3 213.5,280.9 214.0,280.5 214.5,280.1 215.0,279.7 215.5,279.3 216.0,278.8 216.5,278.4 217.0,277.9 217.5,277.4 218.0,276.8 218.5,276.3 219.0,275.7 219.5,275.1 220.0,274.5 220.5,273.8 221.0,273.1 221.5,272.3 222.0,271.5 222.5,270.6 223.0,269.7 223.5,268.8 224.0,267.8 224.5,266.7 225.0,265.6 225.5,264.4 226.0,263.1 226.5,261.7 227.0,260.2 227.5,258.8 228.0,257.4 228.5,256.0 229.0,254.6 229.5,253.3 230.0,251.9 230.5,250.6 231.0,249.2 231.5,247.7 232.0,246.2 232.5,244.7 233.0,243.4 233.5,242.2 234.0,241.0 234.5,239.8 235.0,238.5 235.5,237.1 236.0,235.6 236.5,233.8 237.0,231.9 237.5,229.9 238.0,227.8 238.5,225.5 239.0,223.1 239.5,220.7 240.0,218.1 240.5,215.5 241.0,212.8 241.5,210.1 242.0,207.3 242.5,204.5 243.0,201.6 243.5,198.8 244.0,195.9 244.5,193.1 245.0,190.3 245.5,187.5 246.0,184.8 246.5,182.1 247.0,179.3 247.5,176.6 248.0,173.8 248.5,170.9 249.0,168.1 249.5,165.2 250.0,162.4 250.5,159.4 251.0,156.5 251.5,153.6 252.0,150.6 252.5,147.6 253.0,144.6 253.5,141.6 254.0,138.6 254.5,135.5 255.0,132.5 255.5,129.3 256.0,126.0 256.5,122.6 257.0,119.2 257.5,115.7 258.0,112.2 258.5,108.7 259.0,105.2 259.5,101.8 260.0,98.5 260.5,95.2 261.0,92.1 261.5,89.1 262.0,86.3 262.5,83.6 263.0,81.1 263.5,78.8 264.0,76.5 264.5,74.3 265.0,72.2 265.5,70.1 266.0,68.1 266.5,66.2 267.0,64.3 267.5,62.4 268.0,60.6 268.5,58.8 269.0,57.1 269.5,55.3 270.0,53.5 270.5,51.8 271.0,50.1 271.5,48.5 272.0,46.9 272.5,45.4 273.0,43.9 273.5,42.6 274.0,41.4 274.5,40.2 275.0,39.1 275.5,38.0 276.0,37.1 276.5,36.3 277.0,35.7 277.5,35.2 278.0,34.6 278.5,34.2 279.0,33.7 279.5,33.2 280.0,32.8 280.5,32.5 281.0,32.2 281.5,31.9 282.0,31.7 282.5,31.6 283.0,31.5 283.5,31.5 284.0,31.5 284.5,31.6 285.0,31.6 285.5,31.7 286.0,31.8 286.5,31.9 287.0,32.0 287.5,32.2 288.0,32.6 288.5,33.1 289.0,33.7 289.5,34.3 290.0,35.0 290.5,35.7 291.0,36.4 291.5,37.0 292.0,37.6 292.5,38.1 293.0,38.7 293.5,39.3 294.0,39.8 294.5,40.4 295.0,41.0 295.5,41.7 296.0,42.3 296.5,43.0 297.0,43.7 297.5,44.5 298.0,45.3 298.5,46.1 299.0,47.0 299.5,47.9 300.0,48.8 300.5,49.8 301.0,50.7 301.5,51.7 302.0,52.6 302.5,53.6 303.0,54.6 303.5,55.6 304.0,56.6 304.5,57.6 305.0,58.6 305.5,59.7 306.0,60.7 306.5,61.8 307.0,62.9 307.5,63.9 308.0,65.0 308.5,66.1 309.0,67.2 309.5,68.3 310.0,69.4 310.5,70.5 311.0,71.6 311.5,72.7 312.0,73.8 312.5,74.9 313.0,76.0 313.5,77.1 314.0,78.2 314.5,79.3 315.0,80.4 315.5,81.5 316.0,82.6 316.5,83.7 317.0,84.8 317.5,85.9 318.0,87.0 318.5,88.1 319.0,89.3 319.5,90.5 320.0,91.8 320.5,93.2 321.0,94.6 321.5,96.2 322.0,97.8 322.5,99.4 323.0,101.0 323.5,102.5 324.0,104.0 324.5,105.4 325.0,106.7 325.5,107.9 326.0,109.2 326.5,110.4 327.0,111.5 327.5,112.7 328.0,113.9 328.5,115.0 329.0,116.2 329.5,117.5 330.0,118.7 330.5,120.0 331.0,121.3 331.5,122.6 332.0,123.9 332.5,125.1 333.0,126.4 333.5,127.7 334.0,128.9 334.5,130.2 335.0,131.4 335.5,132.6 336.0,133.8 336.5,134.9 337.0,136.1 337.5,137.3 338.0,138.5 338.5,139.7 339.0,140.8 339.5,142.0 340.0,143.2 340.5,144.4 341.0,145.6 341.5,146.8 342.0,148.1 342.5,149.3 343.0,150.5 343.5,151.7 344.0,153.0 344.5,154.2 345.0,155.4 345.5,156.7 346.0,157.9 346.5,159.1 347.0,160.4 347.5,161.6 348.0,162.9 348.5,164.1 349.0,165.4 349.5,166.6 350.0,167.9 350.5,169.1 351.0,170.4 351.5,171.6 352.0,172.9 352.5,174.1 353.0,175.3 353.5,176.5 354.0,177.7 354.5,178.9 355.0,180.1 355.5,181.2 356.0,182.3 356.5,183.3 357.0,184.3 357.5,185.3 358.0,186.3 358.5,187.2 359.0,188.1 359.5,189.0 360.0,189.9 360.5,190.7 361.0,191.6 361.5,192.4 362.0,193.2 362.5,194.0 363.0,194.8 363.5,195.6 364.0,196.4 364.5,197.2 365.0,198.0 365.5,198.8 366.0,199.6 366.5,200.3 367.0,201.1 367.5,201.9 368.0,202.7 368.5,203.5 369.0,204.3 369.5,205.1 370.0,205.8 370.5,206.6 371.0,207.4 371.5,208.2 372.0,208.9 372.5,209.7 373.0,210.4 373.5,211.2 374.0,211.9 374.5,212.7 375.0,213.4 375.5,214.2 376.0,214.9 376.5,215.6 377.0,216.3 377.5,217.0 378.0,217.7 378.5,218.4 379.0,219.1 379.5,219.8 380.0,220.5 380.5,221.1 381.0,221.8 381.5,222.5 382.0,223.1 382.5,223.8 383.0,224.4 383.5,225.1 384.0,225.7 384.5,226.3 385.0,226.9 385.5,227.6 386.0,228.2 386.5,228.8 387.0,229.4 387.5,230.0 388.0,230.5 388.5,231.1 389.0,231.7 389.5,232.3 390.0,232.8 390.5,233.4 391.0,234.0 391.5,234.5 392.0,235.1 392.5,235.6 393.0,236.1 393.5,236.7 394.0,237.2 394.5,237.7 395.0,238.2 395.5,238.7 396.0,239.2 396.5,239.7 397.0,240.2 397.5,240.7 398.0,241.2 398.5,241.7 399.0,242.2 399.5,242.6 400.0,243.1 400.5,243.6 401.0,244.0 401.5,244.5 402.0,244.9 402.5,245.4 403.0,245.8 403.5,246.3 404.0,246.7 404.5,247.1 405.0,247.5 405.5,247.9 406.0,248.4 406.5,248.8 407.0,249.2 407.5,249.6 408.0,250.0 408.5,250.4 409.0,250.7 409.5,251.1 410.0,251.5 410.5,251.9 411.0,252.3 411.5,252.6 412.0,253.0 412.5,253.3 413.0,253.7 413.5,254.1 414.0,254.4 414.5,254.7 415.0,255.1 415.5,255.4 416.0,255.7 416.5,256.1 417.0,256.4 417.5,256.7 418.0,257.0 418.5,257.4 419.0,257.7 419.5,258.0 420.0,258.3 420.5,258.6 421.0,258.9 421.5,259.2 422.0,259.4 422.5,259.7 423.0,260.0 423.5,260.3 424.0,260.6 424.5,260.8 425.0,261.1 425.5,261.4 426.0,261.6 426.5,261.9 427.0,262.2 427.5,262.4 428.0,262.7 428.5,262.9 429.0,263.1 429.5,263.4 430.0,263.6 430.5,263.9 431.0,264.1 431.5,264.3 432.0,264.6 432.5,264.8 433.0,265.0 433.5,265.2 434.0,265.4 434.5,265.6 435.0,265.9 435.5,266.1 436.0,266.3 436.5,266.5 437.0,266.7 437.5,266.9 438.0,267.1 438.5,267.3 439.0,267.4 439.5,267.6 440.0,267.8 440.5,268.0 441.0,268.2 441.5,268.4 442.0,268.5 442.5,268.7 443.0,268.9 443.5,269.1 444.0,269.2 444.5,269.4 445.0,269.6 445.5,269.7 446.0,269.9 446.5,270.0 447.0,270.2 447.5,270.3 448.0,270.5 448.5,270.6 449.0,270.8 449.5,270.9 450.0,271.1 450.5,271.2 451.0,271.4 451.5,271.5 452.0,271.6 452.5,271.8 453.0,271.9 453.5,272.0 454.0,272.2 454.5,272.3 455.0,272.4 455.5,272.6 456.0,272.7 456.5,272.8 457.0,272.9 457.5,273.0 458.0,273.2 458.5,273.3 459.0,273.4 459.5,273.5 460.0,273.6 460.5,273.7 461.0,273.9 461.5,274.0 462.0,274.1 462.5,274.2 463.0,274.3 463.5,274.4 464.0,274.5 464.5,274.6 465.0,274.7 465.5,274.8 466.0,274.9 466.5,275.0 467.0,275.1 467.5,275.2 468.0,275.3 468.5,275.4 469.0,275.5 469.5,275.6 470.0,275.7 470.5,275.8 471.0,275.9 471.5,276.0 472.0,276.1 472.5,276.2 473.0,276.3 473.5,276.4 474.0,276.5 474.5,276.6 475.0,276.7 475.5,276.8 476.0,276.9 476.5,277.0 477.0,277.0 477.5,277.1 478.0,277.2 478.5,277.3 479.0,277.4 479.5,277.5 480.0,277.6 480.5,277.7 481.0,277.8 481.5,277.9 482.0,278.0 482.5,278.0 483.0,278.1 483.5,278.2 484.0,278.3 484.5,278.4 485.0,278.5 485.5,278.6 486.0,278.7 486.5,278.8 487.0,278.9 487.5,279.0 488.0,279.1 488.5,279.2 489.0,279.3"/>
<path stroke="#ad5c28" d="M176.5,287.0 177.0,287.0 177.5,287.0 178.0,287.0 178.5,287.0 179.0,287.0 179.5,287.0 180.0,287.0 180.5,287.0 181.0,287.0 181.5,287.0 182.0,287.0 182.5,287.0 183.0,287.0 183.5,287.0 184.0,286.9 184.5,286.9 185.0,286.9 185.5,286.9 186.0,286.9 186.5,286.9 187.0,286.9 187.5,286.9 188.0,286.9 188.5,286.9 189.0,286.9 189.5,286.8 190.0,286.8 190.5,286.8 191.0,286.8 191.5,286.8 192.0,286.8 192.5,286.8 193.0,286.7 193.5,286.7 194.0,286.7 194.5,286.7 195.0,286.7 195.5,286.7 196.0,286.7 196.5,286.6 197.0,286.6 197.5,286.6 198.0,286.6 198.5,286.6 199.0,286.5 199.5,286.5 200.0,286.5 200.5,286.5 201.0,286.4 201.5,286.4 202.0,286.4 202.5,286.3 203.0,286.3 203.5,286.2 204.0,286.1 204.5,286.0 205.0,286.0 205.5,285.9 206.0,285.8 206.5,285.7 207.0,285.6 207.5,285.4 208.0,285.3 208.5,285.2 209.0,285.1 209.5,284.9 210.0,284.8 210.5,284.6 211.0,284.5 211.5,284.3 212.0,284.1 212.5,284.0 213.0,283.8 213.5,283.6 214.0,283.4 214.5,283.2 215.0,283.0 215.5,282.8 216.0,282.5 216.5,282.1 217.0,281.7 217.5,281.2 218.0,280.7 218.5,280.2 219.0,279.6 219.5,279.0 220.0,278.4 220.5,277.7 221.0,277.1 221.5,276.5 222.0,275.8 222.5,275.1 223.0,274.4 223.5,273.6 224.0,272.8 224.5,272.0 225.0,271.2 225.5,270.3 226.0,269.4 226.5,268.5 227.0,267.5 227.5,266.5 228.0,265.4 228.5,264.3 229.0,263.1 229.5,261.9 230.0,260.7 230.5,259.4 231.0,258.2 231.5,256.9 232.0,255.5 232.5,254.1 233.0,252.7 233.5,251.3 234.0,250.0 234.5,248.7 235.0,247.4 235.5,246.1 236.0,244.7 236.5,243.3 237.0,241.8 237.5,240.3 238.0,238.7 238.5,237.0 239.0,235.2 239.5,233.2 240.0,231.2 240.5,229.1 241.0,226.9 241.5,224.6 242.0,222.3 242.5,219.9 243.0,217.4 243.5,214.9 244.0,212.4 244.5,209.8 245.0,207.2 245.5,204.5 246.0,201.9 246.5,199.2 247.0,196.5 247.5,193.8 248.0,191.2 248.5,188.5 249.0,185.9 249.5,183.2 250.0,180.5 250.5,177.8 251.0,175.1 251.5,172.3 252.0,169.4 252.5,166.6 253.0,163.7 253.5,160.8 254.0,158.0 254.5,155.1 255.0,152.2 255.5,149.3 256.0,146.5 256.5,143.6 257.0,140.8 257.5,138.1 258.0,135.3 258.5,132.6 259.0,129.9 259.5,127.3 260.0,124.6 260.5,121.9 261.0,119.3 261.5,116.7 262.0,114.0 262.5,111.4 263.0,108.8 263.5,106.2 264.0,103.6 264.5,101.1 265.0,98.5 265.5,96.0 266.0,93.5 266.5,91.0 267.0,88.5 267.5,86.0 268.0,83.6 268.5,81.1 269.0,78.6 269.5,76.0 270.0,73.4 270.5,70.8 271.0,68.3 271.5,65.7 272.0,63.2 272.5,60.8 273.0,58.6 273.5,56.4 274.0,54.5 274.5,52.7 275.0,51.1 275.5,49.7 276.0,48.4 276.5,47.2 277.0,46.1 277.5,45.0 278.0,44.0 278.5,43.0 279.0,42.1 279.5,41.1 280.0,40.1 280.5,39.1 281.0,38.1 281.5,37.2 282.0,36.3 282.5,35.5 283.0,34.9 283.5,34.4 284.0,33.9 284.5,33.5 285.0,33.0 285.5,32.6 286.0,32.3 286.5,32.0 287.0,31.7 287.5,31.6 288.0,31.5 288.5,31.5 289.0,31.7 289.5,31.9 290.0,32.2 290.5,32.6 291.0,33.0 291.5,33.5 292.0,33.9 292.5,34.3 293.0,34.7 293.5,35.2 294.0,35.7 294.5,36.2 295.0,36.7 295.5,37.3 296.0,37.9 296.5,38.5 297.0,39.1 297.5,39.7 298.0,40.3 298.5,40.9 299.0,41.6 299.5,42.2 300.0,42.9 300.5,43.5 301.0,44.2 301.5,44.9 302.0,45.6 302.5,46.4 303.0,47.2 303.5,48.0 304.0,48.8 304.5,49.7 305.0,50.6 305.5,51.5 306.0,52.5 306.5,53.5 307.0,54.5 307.5,55.6 308.0,56.7 308.5,57.8 309.0,59.0 309.5,60.2 310.0,61.5 310.5,62.8 311.0,64.1 311.5,65.4 312.0,66.8 312.5,68.1 313.0,69.5 313.5,70.9 314.0,72.2 314.5,73.6 315.0,74.9 315.5,76.2 316.0,77.5 316.5,78.8 317.0,80.0 317.5,81.2 318.0,82.3 318.5,83.5 319.0,84.6 319.5,85.7 320.0,86.8 320.5,87.9 321.0,89.0 321.5,90.1 322.0,91.2 322.5,92.4 323.0,93.5 323.5,94.7 324.0,95.9 324.5,97.1 325.0,98.3 325.5,99.5 326.0,100.7 326.5,101.9 327.0,103.1 327.5,104.3 328.0,105.6 328.5,106.8 329.0,108.1 329.5,109.3 330.0,110.6 330.5,111.9 331.0,113.2 331.5,114.5 332.0,115.9 332.5,117.2 333.0,118.6 333.5,119.9 334.0,121.3 334.5,122.6 335.0,123.9 335.5,125.3 336.0,126.7 336.5,128.1 337.0,129.4 337.5,130.7 338.0,132.1 338.5,133.4 339.0,134.7 339.5,136.0 340.0,137.4 340.5,138.7 341.0,140.0 341.5,141.3 342.0,142.6 342.5,143.9 343.0,145.2 343.5,146.5 344.0,147.8 344.5,149.1 345.0,150.4 345.5,151.6 346.0,152.8 346.5,154.1 347.0,155.3 347.5,156.5 348.0,157.7 348.5,158.8 349.0,160.0 349.5,161.2 350.0,162.4 350.5,163.5 351.0,164.7 351.5,165.8 352.0,167.0 352.5,168.1 353.0,169.2 353.5,170.3 354.0,171.5 354.5,172.6 355.0,173.7 355.5,174.7 356.0,175.8 356.5,176.9 357.0,178.0 357.5,179.0 358.0,180.1 358.5,181.1 359.0,182.2 359.5,183.2 360.0,184.2 360.5,185.2 361.0,186.2 361.5,187.2 362.0,188.2 362.5,189.2 363.0,190.2 363.5,191.1 364.0,192.1 364.5,193.0 365.0,194.0 365.5,194.9 366.0,195.8 366.5,196.7 367.0,197.6 367.5,198.5 368.0,199.4 368.5,200.3 369.0,201.2 369.5,202.1 370.0,202.9 370.5,203.8 371.0,204.6 371.5,205.4 372.0,206.3 372.5,207.1 373.0,207.9 373.5,208.7 374.0,209.5 374.5,210.3 375.0,211.0 375.5,211.8 376.0,212.6 376.5,213.3 377.0,214.1 377.5,214.8 378.0,215.6 378.5,216.3 379.0,217.0 379.5,217.7 380.0,218.4 380.5,219.1 381.0,219.8 381.5,220.5 382.0,221.2 382.5,221.8 383.0,222.5 383.5,223.1 384.0,223.8 384.5,224.4 385.0,225.1 385.5,225.7 386.0,226.3 386.5,226.9 387.0,227.5 387.5,228.1 388.0,228.7 388.5,229.3 389.0,229.9 389.5,230.5 390.0,231.1 390.5,231.6 391.0,232.2 391.5,232.8 392.0,233.3 392.5,233.9 393.0,234.4 393.5,234.9 394.0,235.5 394.5,236.0 395.0,236.5 395.5,237.0 396.0,237.5 396.5,238.0 397.0,238.5 397.5,239.0 398.0,239.5 398.5,240.0 399.0,240.4 399.5,240.9 400.0,241.4 400.5,241.8 401.0,242.3 401.5,242.8 402.0,243.2 402.5,243.7 403.0,244.1 403.5,244.5 404.0,245.0 404.5,245.4 405.0,245.8 405.5,246.2 406.0,246.6 406.5,247.1 407.0,247.5 407.5,247.9 408.0,248.3 408.5,248.7 409.0,249.1 409.5,249.4 410.0,249.8 410.5,250.2 411.0,250.6 411.5,251.0 412.0,251.3 412.5,251.7 413.0,252.0 413.5,252.4 414.0,252.8 414.5,253.1 415.0,253.5 415.5,253.8 416.0,254.1 416.5,254.5 417.0,254.8 417.5,255.1 418.0,255.5 418.5,255.8 419.0,256.1 419.5,256.4 420.0,256.7 420.5,257.0 421.0,257.3 421.5,257.6 422.0,257.9 422.5,258.2 423.0,258.5 423.5,258.8 424.0,259.1 424.5,259.4 425.0,259.7 425.5,259.9 426.0,260.2 426.5,260.5 427.0,260.8 427.5,261.0 428.0,261.3 428.5,261.5 429.0,261.8 429.5,262.0 430.0,262.3 430.5,262.5 431.0,262.8 431.5,263.0 432.0,263.3 432.5,263.5 433.0,263.7 433.5,264.0 434.0,264.2 434.5,264.4 435.0,264.6 435.5,264.9 436.0,265.1 436.5,265.3 437.0,265.5 437.5,265.7 438.0,265.9 438.5,266.1 439.0,266.3 439.5,266.5 440.0,266.7 440.5,266.9 441.0,267.1 441.5,267.3 442.0,267.5 442.5,267.7 443.0,267.9 443.5,268.1 444.0,268.2 444.5,268.4 445.0,268.6 445.5,268.8 446.0,268.9 446.5,269.1 447.0,269.3 447.5,269.4 448.0,269.6 448.5,269.8 449.0,269.9 449.5,270.1 450.0,270.3 450.5,270.4 451.0,270.6 451.5,270.7 452.0,270.9 452.5,271.0 453.0,271.2 453.5,271.3 454.0,271.4 454.5,271.6 455.0,271.7 455.5,271.9 456.0,272.0 456.5,272.1 457.0,272.3 457.5,272.4 458.0,272.5 458.5,272.7 459.0,272.8 459.5,272.9 460.0,273.0 460.5,273.2 461.0,273.3 461.5,273.4 462.0,273.5 462.5,273.6 463.0,273.8 463.5,273.9 464.0,274.0 464.5,274.1 465.0,274.2 465.5,274.3 466.0,274.4 466.5,274.5 467.0,274.6 467.5,274.8 468.0,274.9 468.5,275.0 469.0,275.1 469.5,275.2 470.0,275.3 470.5,275.4 471.0,275.5 471.5,275.6 472.0,275.7 472.5,275.8 473.0,275.9 473.5,276.0 474.0,276.1 474.5,276.2 475.0,276.3 475.5,276.4 476.0,276.5 476.5,276.5 477.0,276.6 477.5,276.7 478.0,276.8 478.5,276.9 479.0,277.0 479.5,277.1 480.0,277.2 480.5,277.3 481.0,277.4 481.5,277.5 482.0,277.6 482.5,277.6 483.0,277.7 483.5,277.8 484.0,277.9 484.5,278.0 485.0,278.1 485.5,278.2 486.0,278.3 486.5,278.4 487.0,278.4 487.5,278.5 488.0,278.6 488.5,278.7 489.0,278.8"/>
<path stroke="#ff2222" d="M176.5,287.0 177.0,287.0 177.5,287.0 178.0,287.0 178.5,287.0 179.0,287.0 179.5,287.0 180.0,287.0 180.5,287.0 181.0,287.0 181.5,287.0 182.0,287.0 182.5,287.0 183.0,287.0 183.5,287.0 184.0,287.0 184.5,287.0 185.0,287.0 185.5,287.0 186.0,287.0 186.5,287.0 187.0,287.0 187.5,286.9 188.0,286.9 188.5,286.9 189.0,286.9 189.5,286.9 190.0,286.9 190.5,286.9 191.0,286.9 191.5,286.9 192.0,286.9 192.5,286.9 193.0,286.9 193.5,286.9 194.0,286.9 194.5,286.9 195.0,286.8 195.5,286.8 196.0,286.8 196.5,286.8 197.0,286.8 197.5,286.8 198.0,286.8 198.5,286.8 199.0,286.8 199.5,286.8 200.0,286.8 200.5,286.7 201.0,286.7 201.5,286.7 202.0,286.7 202.5,286.7 203.0,286.7 203.5,286.7 204.0,286.7 204.5,286.7 205.0,286.6 205.5,286.6 206.0,286.6 206.5,286.6 207.0,286.6 207.5,286.6 208.0,286.6 208.5,286.5 209.0,286.5 209.5,286.5 210.0,286.5 210.5,286.5 211.0,286.5 211.5,286.4 212.0,286.4 212.5,286.4 213.0,286.3 213.5,286.3 214.0,286.3 214.5,286.2 215.0,286.2 215.5,286.1 216.0,286.1 216.5,286.0 217.0,285.9 217.5,285.9 218.0,285.8 218.5,285.7 219.0,285.6 219.5,285.6 220.0,285.5 220.5,285.4 221.0,285.3 221.5,285.2 222.0,285.1 222.5,285.0 223.0,284.8 223.5,284.7 224.0,284.6 224.5,284.5 225.0,284.3 225.5,284.2 226.0,284.0 226.5,283.8 227.0,283.5 227.5,283.1 228.0,282.7 228.5,282.3 229.0,281.9 229.5,281.4 230.0,281.0 230.5,280.6 231.0,280.2 231.5,279.8 232.0,279.4 232.5,278.9 233.0,278.5 233.5,278.0 234.0,277.5 234.5,277.1 235.0,276.6 235.5,276.1 236.0,275.5 236.5,275.0 237.0,274.4 237.5,273.8 238.0,273.1 238.5,272.3 239.0,271.4 239.5,270.5 240.0,269.5 240.5,268.5 241.0,267.5 241.5,266.5 242.0,265.5 242.5,264.4 243.0,263.4 243.5,262.2 244.0,261.0 244.5,259.7 245.0,258.3 245.5,256.9 246.0,255.4 246.5,253.9 247.0,252.4 247.5,250.9 248.0,249.4 248.5,248.0 249.0,246.6 249.5,245.0 250.0,243.3 250.5,241.5 251.0,239.5 251.5,237.6 252.0,235.6 252.5,233.6 253.0,231.6 253.5,229.6 254.0,227.5 254.5,225.4 255.0,223.2 255.5,220.9 256.0,218.6 256.5,216.2 257.0,213.8 257.5,211.3 258.0,208.7 258.5,206.1 259.0,203.5 259.5,200.8 260.0,198.1 260.5,195.4 261.0,192.6 261.5,189.8 262.0,187.0 262.5,184.2 263.0,181.4 263.5,178.5 264.0,175.5 264.5,172.5 265.0,169.5 265.5,166.4 266.0,163.3 266.5,160.2 267.0,157.1 267.5,153.9 268.0,150.8 268.5,147.7 269.0,144.6 269.5,141.5 270.0,138.5 270.5,135.5 271.0,132.5 271.5,129.5 272.0,126.5 272.5,123.5 273.0,120.5 273.5,117.5 274.0,114.5 274.5,111.5 275.0,108.5 275.5,105.5 276.0,102.6 276.5,99.7 277.0,96.9 277.5,94.1 278.0,91.3 278.5,88.7 279.0,86.1 279.5,83.6 280.0,81.2 280.5,78.8 281.0,76.5 281.5,74.3 282.0,72.1 282.5,69.9 283.0,67.8 283.5,65.7 284.0,63.7 284.5,61.7 285.0,59.6 285.5,57.6 286.0,55.6 286.5,53.5 287.0,51.3 287.5,49.0 288.0,46.8 288.5,44.7 289.0,42.8 289.5,41.1 290.0,39.7 290.5,38.7 291.0,37.8 291.5,37.0 292.0,36.3 292.5,35.7 293.0,35.1 293.5,34.6 294.0,34.1 294.5,33.7 295.0,33.3 295.5,32.9 296.0,32.5 296.5,32.2 297.0,31.9 297.5,31.7 298.0,31.5 298.5,31.5 299.0,31.5 299.5,31.6 300.0,31.6 300.5,31.7 301.0,31.8 301.5,31.9 302.0,32.1 302.5,32.4 303.0,32.8 303.5,33.3 304.0,33.9 304.5,34.6 305.0,35.2 305.5,35.8 306.0,36.4 306.5,37.1 307.0,37.8 307.5,38.6 308.0,39.3 308.5,40.1 309.0,40.9 309.5,41.8 310.0,42.6 310.5,43.4 311.0,44.2 311.5,45.0 312.0,45.8 312.5,46.7 313.0,47.6 313.5,48.5 314.0,49.5 314.5,50.5 315.0,51.6 315.5,52.7 316.0,53.8 316.5,54.9 317.0,56.0 317.5,57.1 318.0,58.2 318.5,59.4 319.0,60.5 319.5,61.6 320.0,62.7 320.5,63.9 321.0,65.0 321.5,66.2 322.0,67.3 322.5,68.5 323.0,69.7 323.5,70.8 324.0,72.0 324.5,73.2 325.0,74.4 325.5,75.6 326.0,76.8 326.5,78.0 327.0,79.3 327.5,80.5 328.0,81.7 328.5,83.0 329.0,84.3 329.5,85.5 330.0,86.8 330.5,88.1 331.0,89.4 331.5,90.8 332.0,92.1 332.5,93.4 333.0,94.8 333.5,96.1 334.0,97.5 334.5,98.8 335.0,100.2 335.5,101.5 336.0,102.9 336.5,104.3 337.0,105.6 337.5,107.0 338.0,108.4 338.5,109.7 339.0,111.1 339.5,112.4 340.0,113.8 340.5,115.1 341.0,116.5 341.5,117.8 342.0,119.2 342.5,120.5 343.0,121.8 343.5,123.1 344.0,124.4 344.5,125.7 345.0,127.0 345.5,128.2 346.0,129.4 346.5,130.7 347.0,131.9 347.5,133.2 348.0,134.4 348.5,135.7 349.0,136.9 349.5,138.2 350.0,139.5 350.5,140.7 351.0,142.0 351.5,143.3 352.0,144.5 352.5,145.8 353.0,147.1 353.5,148.3 354.0,149.6 354.5,150.8 355.0,152.1 355.5,153.3 356.0,154.5 356.5,155.7 357.0,156.9 357.5,158.0 358.0,159.2 358.5,160.4 359.0,161.5 359.5,162.6 360.0,163.8 360.5,164.9 361.0,166.0 361.5,167.1 362.0,168.2 362.5,169.3 363.0,170.4 363.5,171.5 364.0,172.5 364.5,173.6 365.0,174.6 365.5,175.7 366.0,176.7 366.5,177.7 367.0,178.8 367.5,179.8 368.0,180.8 368.5,181.8 369.0,182.8 369.5,183.7 370.0,184.7 370.5,185.7 371.0,186.6 371.5,187.6 372.0,188.5 372.5,189.5 373.0,190.4 373.5,191.3 374.0,192.2 374.5,193.1 375.0,194.0 375.5,194.9 376.0,195.8 376.5,196.7 377.0,197.6 377.5,198.4 378.0,199.3 378.5,200.2 379.0,201.0 379.5,201.8 380.0,202.7 380.5,203.5 381.0,204.3 381.5,205.1 382.0,205.9 382.5,206.7 383.0,207.5 383.5,208.3 384.0,209.1 384.5,209.8 385.0,210.6 385.5,211.4 386.0,212.1 386.5,212.9 387.0,213.6 387.5,214.3 388.0,215.1 388.5,215.8 389.0,216.5 389.5,217.2 390.0,217.9 390.5,218.6 391.0,219.3 391.5,220.0 392.0,220.6 392.5,221.3 393.0,222.0 393.5,222.6 394.0,223.3 394.5,223.9 395.0,224.6 395.5,225.2 396.0,225.8 396.5,226.5 397.0,227.1 397.5,227.7 398.0,228.3 398.5,228.9 399.0,229.5 399.5,230.1 400.0,230.7 400.5,231.2 401.0,231.8 401.5,232.4 402.0,232.9 402.5,233.5 403.0,234.0 403.5,234.6 404.0,235.1 404.5,235.7 405.0,236.2 405.5,236.7 406.0,237.2 406.5,237.8 407.0,238.3 407.5,238.8 408.0,239.3 408.5,239.8 409.0,240.2 409.5,240.7 410.0,241.2 410.5,241.7 411.0,242.2 411.5,242.6 412.0,243.1 412.5,243.5 413.0,244.0 413.5,244.4 414.0,244.9 414.5,245.3 415.0,245.7 415.5,246.2 416.0,246.6 416.5,247.0 417.0,247.4 417.5,247.8 418.0,248.2 418.5,248.6 419.0,249.0 419.5,249.4 420.0,249.8 420.5,250.2 421.0,250.6 421.5,251.0 422.0,251.3 422.5,251.7 423.0,252.1 423.5,252.4 424.0,252.8 424.5,253.1 425.0,253.5 425.5,253.8 426.0,254.2 426.5,254.5 427.0,254.8 427.5,255.2 428.0,255.5 428.5,255.8 429.0,256.1 429.5,256.4 430.0,256.7 430.5,257.0 431.0,257.4 431.5,257.7 432.0,257.9 432.5,258.2 433.0,258.5 433.5,258.8 434.0,259.1 434.5,259.4 435.0,259.7 435.5,259.9 436.0,260.2 436.5,260.5 437.0,260.7 437.5,261.0 438.0,261.2 438.5,261.5 439.0,261.8 439.5,262.0 440.0,262.2 440.5,262.5 441.0,262.7 441.5,263.0 442.0,263.2 442.5,263.4 443.0,263.7 443.5,263.9 444.0,264.1 444.5,264.3 445.0,264.5 445.5,264.8 446.0,265.0 446.5,265.2 447.0,265.4 447.5,265.6 448.0,265.8 448.5,266.0 449.0,266.2 449.5,266.4 450.0,266.6 450.5,266.8 451.0,267.0 451.5,267.2 452.0,267.3 452.5,267.5 453.0,267.7 453.5,267.9 454.0,268.1 454.5,268.2 455.0,268.4 455.5,268.6 456.0,268.7 456.5,268.9 457.0,269.1 457.5,269.2 458.0,269.4 458.5,269.6 459.0,269.7 459.5,269.9 460.0,270.0 460.5,270.2 461.0,270.3 461.5,270.5 462.0,270.6 462.5,270.8 463.0,270.9 463.5,271.1 464.0,271.2 464.5,271.4 465.0,271.5 465.5,271.6 466.0,271.8 466.5,271.9 467.0,272.0 467.5,272.2 468.0,272.3 468.5,272.4 469.0,272.6 469.5,272.7 470.0,272.8 470.5,273.0 471.0,273.1 471.5,273.2 472.0,273.3 472.5,273.5 473.0,273.6 473.5,273.7 474.0,273.8 474.5,274.0 475.0,274.1 475.5,274.2 476.0,274.3 476.5,274.4 477.0,274.6 477.5,274.7 478.0,274.8 478.5,274.9 479.0,275.0 479.5,275.1 480.0,275.3 480.5,275.4 481.0,275.5 481.5,275.6 482.0,275.7 482.5,275.8 483.0,276.0 483.5,276.1 484.0,276.2 484.5,276.3 485.0,276.4 485.5,276.5 486.0,276.6 486.5,276.8 487.0,276.9 487.5,277.0 488.0,277.1 488.5,277.2 489.0,277.3"/>
<path stroke="#263a7c" d="M176.5,287.0 177.0,287.0 177.5,287.0 178.0,287.0 178.5,287.0 179.0,287.0 179.5,287.0 180.0,287.0 180.5,287.0 181.0,287.0 181.5,287.0 182.0,287.0 182.5,287.0 183.0,287.0 183.5,287.0 184.0,287.0 184.5,287.0 185.0,287.0 185.5,287.0 186.0,287.0 186.5,287.0 187.0,287.0 187.5,287.0 188.0,287.0 188.5,287.0 189.0,287.0 189.5,286.9 190.0,286.9 190.5,286.9 191.0,286.9 191.5,286.9 192.0,286.9 192.5,286.9 193.0,286.9 193.5,286.9 194.0,286.9 194.5,286.9 195.0,286.9 195.5,286.9 196.0,286.9 196.5,286.9 197.0,286.9 197.5,286.9 198.0,286.9 198.5,286.8 199.0,286.8 199.5,286.8 200.0,286.8 200.5,286.8 201.0,286.8 201.5,286.8 202.0,286.8 202.5,286.8 203.0,286.8 203.5,286.8 204.0,286.8 204.5,286.7 205.0,286.7 205.5,286.7 206.0,286.7 206.5,286.7 207.0,286.7 207.5,286.7 208.0,286.7 208.5,286.7 209.0,286.7 209.5,286.6 210.0,286.6 210.5,286.6 211.0,286.6 211.5,286.6 212.0,286.6 212.5,286.6 213.0,286.6 213.5,286.5 214.0,286.5 214.5,286.5 215.0,286.5 215.5,286.5 216.0,286.4 216.5,286.4 217.0,286.4 217.5,286.3 218.0,286.2 218.5,286.2 219.0,286.1 219.5,286.0 220.0,285.9 220.5,285.8 221.0,285.6 221.5,285.5 222.0,285.4 222.5,285.3 223.0,285.1 223.5,285.0 224.0,284.9 224.5,284.7 225.0,284.6 225.5,284.4 226.0,284.3 226.5,284.1 227.0,283.9 227.5,283.8 228.0,283.6 228.5,283.5 229.0,283.3 229.5,283.2 230.0,283.0 230.5,282.8 231.0,282.7 231.5,282.5 232.0,282.3 232.5,282.1 233.0,281.9 233.5,281.7 234.0,281.5 234.5,281.2 235.0,281.0 235.5,280.8 236.0,280.6 236.5,280.4 237.0,280.1 237.5,279.9 238.0,279.6 238.5,279.3 239.0,279.0 239.5,278.7 240.0,278.3 240.5,278.0 241.0,277.5 241.5,277.1 242.0,276.6 242.5,276.1 243.0,275.6 243.5,275.1 244.0,274.5 244.5,273.9 245.0,273.2 245.5,272.5 246.0,271.8 246.5,271.1 247.0,270.3 247.5,269.6 248.0,268.7 248.5,267.9 249.0,267.0 249.5,266.0 250.0,265.1 250.5,264.1 251.0,263.1 251.5,262.0 252.0,260.7 252.5,259.3 253.0,257.8 253.5,256.3 254.0,254.8 254.5,253.4 255.0,252.2 255.5,251.2 256.0,250.2 256.5,248.8 257.0,247.0 257.5,245.0 258.0,242.9 258.5,240.5 259.0,238.2 259.5,236.0 260.0,234.1 260.5,232.2 261.0,230.5 261.5,228.8 262.0,227.2 262.5,225.5 263.0,223.8 263.5,221.9 264.0,220.0 264.5,217.9 265.0,215.8 265.5,213.6 266.0,211.3 266.5,209.0 267.0,206.7 267.5,204.2 268.0,201.8 268.5,199.3 269.0,196.7 269.5,194.2 270.0,191.6 270.5,189.0 271.0,186.4 271.5,183.7 272.0,181.0 272.5,178.3 273.0,175.5 273.5,172.6 274.0,169.6 274.5,166.7 275.0,163.7 275.5,160.7 276.0,157.7 276.5,154.7 277.0,151.7 277.5,148.7 278.0,145.7 278.5,142.8 279.0,139.9 279.5,137.0 280.0,134.2 280.5,131.5 281.0,128.8 281.5,126.1 282.0,123.3 282.5,120.6 283.0,118.0 283.5,115.3 284.0,112.6 284.5,110.0 285.0,107.3 285.5,104.7 286.0,102.2 286.5,99.6 287.0,97.1 287.5,94.6 288.0,92.1 288.5,89.7 289.0,87.3 289.5,84.9 290.0,82.6 290.5,80.3 291.0,78.1 291.5,75.9 292.0,73.8 292.5,71.7 293.0,69.6 293.5,67.5 294.0,65.5 294.5,63.4 295.0,61.4 295.5,59.3 296.0,57.3 296.5,55.1 297.0,52.8 297.5,50.4 298.0,48.0 298.5,45.7 299.0,43.6 299.5,41.8 300.0,40.4 300.5,39.4 301.0,38.6 301.5,37.8 302.0,37.1 302.5,36.5 303.0,35.9 303.5,35.5 304.0,35.0 304.5,34.6 305.0,34.2 305.5,33.9 306.0,33.5 306.5,33.1 307.0,32.8 307.5,32.5 308.0,32.3 308.5,32.1 309.0,31.9 309.5,31.8 310.0,31.8 310.5,31.8 311.0,31.9 311.5,32.0 312.0,32.1 312.5,32.3 313.0,32.4 313.5,32.6 314.0,33.0 314.5,33.6 315.0,34.2 315.5,34.9 316.0,35.7 316.5,36.5 317.0,37.3 317.5,38.0 318.0,38.7 318.5,39.3 319.0,40.0 319.5,40.7 320.0,41.4 320.5,42.1 321.0,42.9 321.5,43.8 322.0,44.7 322.5,45.8 323.0,47.0 323.5,48.4 324.0,49.8 324.5,51.2 325.0,52.7 325.5,54.0 326.0,55.3 326.5,56.4 327.0,57.5 327.5,58.4 328.0,59.3 328.5,60.2 329.0,61.0 329.5,61.9 330.0,62.8 330.5,63.7 331.0,64.6 331.5,65.6 332.0,66.7 332.5,67.9 333.0,69.1 333.5,70.5 334.0,72.0 334.5,73.5 335.0,75.0 335.5,76.6 336.0,78.1 336.5,79.6 337.0,81.2 337.5,82.6 338.0,84.0 338.5,85.4 339.0,86.8 339.5,88.2 340.0,89.6 340.5,91.0 341.0,92.4 341.5,93.8 342.0,95.1 342.5,96.5 343.0,97.8 343.5,99.2 344.0,100.5 344.5,101.9 345.0,103.2 345.5,104.6 346.0,106.0 346.5,107.3 347.0,108.7 347.5,110.0 348.0,111.3 348.5,112.7 349.0,114.0 349.5,115.2 350.0,116.5 350.5,117.7 351.0,118.9 351.5,120.0 352.0,121.1 352.5,122.1 353.0,123.1 353.5,124.1 354.0,125.0 354.5,126.0 355.0,126.9 355.5,127.8 356.0,128.8 356.5,129.8 357.0,130.8 357.5,131.9 358.0,133.1 358.5,134.3 359.0,135.6 359.5,136.9 360.0,138.2 360.5,139.5 361.0,140.9 361.5,142.2 362.0,143.5 362.5,144.7 363.0,145.9 363.5,147.1 364.0,148.3 364.5,149.4 365.0,150.5 365.5,151.6 366.0,152.7 366.5,153.9 367.0,155.0 367.5,156.2 368.0,157.3 368.5,158.4 369.0,159.6 369.5,160.7 370.0,161.8 370.5,162.9 371.0,164.1 371.5,165.2 372.0,166.3 372.5,167.4 373.0,168.5 373.5,169.5 374.0,170.6 374.5,171.7 375.0,172.8 375.5,173.8 376.0,174.9 376.5,175.9 377.0,176.9 377.5,178.0 378.0,179.0 378.5,180.0 379.0,181.0 379.5,182.0 380.0,183.0 380.5,184.0 381.0,185.0 381.5,186.0 382.0,186.9 382.5,187.9 383.0,188.8 383.5,189.8 384.0,190.7 384.5,191.6 385.0,192.6 385.5,193.5 386.0,194.4 386.5,195.3 387.0,196.2 387.5,197.0 388.0,197.9 388.5,198.8 389.0,199.6 389.5,200.4 390.0,201.3 390.5,202.1 391.0,202.9 391.5,203.7 392.0,204.5 392.5,205.3 393.0,206.1 393.5,206.9 394.0,207.7 394.5,208.5 395.0,209.2 395.5,210.0 396.0,210.7 396.5,211.5 397.0,212.2 397.5,212.9 398.0,213.7 398.5,214.4 399.0,215.1 399.5,215.8 400.0,216.5 400.5,217.2 401.0,217.9 401.5,218.6 402.0,219.3 402.5,219.9 403.0,220.6 403.5,221.3 404.0,221.9 404.5,222.6 405.0,223.2 405.5,223.9 406.0,224.5 406.5,225.2 407.0,225.8 407.5,226.4 408.0,227.0 408.5,227.6 409.0,228.3 409.5,228.9 410.0,229.4 410.5,230.0 411.0,230.6 411.5,231.2 412.0,231.8 412.5,232.3 413.0,232.9 413.5,233.4 414.0,234.0 414.5,234.5 415.0,235.0 415.5,235.5 416.0,236.0 416.5,236.5 417.0,237.0 417.5,237.5 418.0,238.0 418.5,238.5 419.0,239.0 419.5,239.4 420.0,239.9 420.5,240.4 421.0,240.8 421.5,241.3 422.0,241.7 422.5,242.2 423.0,242.6 423.5,243.0 424.0,243.5 424.5,243.9 425.0,244.3 425.5,244.7 426.0,245.2 426.5,245.6 427.0,246.0 427.5,246.4 428.0,246.8 428.5,247.2 429.0,247.6 429.5,248.0 430.0,248.4 430.5,248.7 431.0,249.1 431.5,249.5 432.0,249.9 432.5,250.2 433.0,250.6 433.5,251.0 434.0,251.3 434.5,251.7 435.0,252.0 435.5,252.4 436.0,252.7 436.5,253.1 437.0,253.4 437.5,253.8 438.0,254.1 438.5,254.4 439.0,254.8 439.5,255.1 440.0,255.4 440.5,255.7 441.0,256.0 441.5,256.4 442.0,256.7 442.5,257.0 443.0,257.3 443.5,257.6 444.0,257.9 444.5,258.2 445.0,258.5 445.5,258.8 446.0,259.0 446.5,259.3 447.0,259.6 447.5,259.9 448.0,260.2 448.5,260.4 449.0,260.7 449.5,261.0 450.0,261.2 450.5,261.5 451.0,261.8 451.5,262.0 452.0,262.3 452.5,262.5 453.0,262.8 453.5,263.0 454.0,263.3 454.5,263.5 455.0,263.8 455.5,264.0 456.0,264.2 456.5,264.5 457.0,264.7 457.5,264.9 458.0,265.1 458.5,265.4 459.0,265.6 459.5,265.8 460.0,266.0 460.5,266.2 461.0,266.4 461.5,266.7 462.0,266.9 462.5,267.1 463.0,267.3 463.5,267.5 464.0,267.7 464.5,267.9 465.0,268.1 465.5,268.3 466.0,268.5 466.5,268.7 467.0,268.8 467.5,269.0 468.0,269.2 468.5,269.4 469.0,269.6 469.5,269.8 470.0,269.9 470.5,270.1 471.0,270.3 471.5,270.5 472.0,270.6 472.5,270.8 473.0,271.0 473.5,271.1 474.0,271.3 474.5,271.5 475.0,271.6 475.5,271.8 476.0,271.9 476.5,272.1 477.0,272.3 477.5,272.4 478.0,272.6 478.5,272.7 479.0,272.9 479.5,273.0 480.0,273.2 480.5,273.3 481.0,273.5 481.5,273.6 482.0,273.7 482.5,273.9 483.0,274.0 483.5,274.2 484.0,274.3 484.5,274.4 485.0,274.6 485.5,274.7 486.0,274.9 486.5,275.0 487.0,275.1 487.5,275.2 488.0,275.4 488.5,275.5 489.0,275.6"/>
<path stroke="#98d25a" d="M176.5,287.0 177.0,287.0 177.5,287.0 178.0,287.0 178.5,287.0 179.0,287.0 179.5,287.0 180.0,287.0 180.5,287.0 181.0,287.0 181.5,287.0 182.0,287.0 182.5,287.0 183.0,287.0 183.5,287.0 184.0,287.0 184.5,287.0 185.0,287.0 185.5,287.0 186.0,287.0 186.5,287.0 187.0,287.0 187.5,287.0 188.0,287.0 188.5,287.0 189.0,287.0 189.5,287.0 190.0,287.0 190.5,287.0 191.0,286.9 191.5,286.9 192.0,286.9 192.5,286.9 193.0,286.9 193.5,286.9 194.0,286.9 194.5,286.9 195.0,286.9 195.5,286.9 196.0,286.9 196.5,286.9 197.0,286.9 197.5,286.9 198.0,286.9 198.5,286.9 199.0,286.9 199.5,286.9 200.0,286.9 200.5,286.9 201.0,286.8 201.5,286.8 202.0,286.8 202.5,286.8 203.0,286.8 203.5,286.8 204.0,286.8 204.5,286.8 205.0,286.8 205.5,286.8 206.0,286.8 206.5,286.8 207.0,286.8 207.5,286.7 208.0,286.7 208.5,286.7 209.0,286.7 209.5,286.7 210.0,286.7 210.5,286.7 211.0,286.7 211.5,286.7 212.0,286.7 212.5,286.7 213.0,286.6 213.5,286.6 214.0,286.6 214.5,286.6 215.0,286.6 215.5,286.6 216.0,286.6 216.5,286.5 217.0,286.5 217.5,286.4 218.0,286.4 218.5,286.3 219.0,286.2 219.5,286.2 220.0,286.1 220.5,286.0 221.0,285.9 221.5,285.8 222.0,285.7 222.5,285.6 223.0,285.5 223.5,285.4 224.0,285.3 224.5,285.2 225.0,285.1 225.5,285.0 226.0,284.8 226.5,284.7 227.0,284.6 227.5,284.5 228.0,284.4 228.5,284.3 229.0,284.2 229.5,284.1 230.0,284.0 230.5,283.9 231.0,283.8 231.5,283.7 232.0,283.6 232.5,283.5 233.0,283.4 233.5,283.3 234.0,283.3 234.5,283.2 235.0,283.0 235.5,282.9 236.0,282.8 236.5,282.7 237.0,282.6 237.5,282.5 238.0,282.3 238.5,282.2 239.0,282.0 239.5,281.8 240.0,281.6 240.5,281.4 241.0,281.2 241.5,281.0 242.0,280.8 242.5,280.6 243.0,280.4 243.5,280.2 244.0,279.9 244.5,279.7 245.0,279.5 245.5,279.3 246.0,279.0 246.5,278.8 247.0,278.6 247.5,278.4 248.0,278.1 248.5,277.9 249.0,277.6 249.5,277.3 250.0,277.0 250.5,276.7 251.0,276.3 251.5,275.8 252.0,275.4 252.5,274.9 253.0,274.4 253.5,273.8 254.0,273.3 254.5,272.6 255.0,271.9 255.5,271.2 256.0,270.4 256.5,269.6 257.0,268.7 257.5,267.9 258.0,267.0 258.5,266.1 259.0,265.3 259.5,264.5 260.0,263.7 260.5,263.0 261.0,262.2 261.5,261.5 262.0,260.7 262.5,260.0 263.0,259.2 263.5,258.5 264.0,257.7 264.5,256.9 265.0,256.2 265.5,255.5 266.0,254.8 266.5,254.0 267.0,253.3 267.5,252.6 268.0,251.8 268.5,251.0 269.0,250.2 269.5,249.3 270.0,248.4 270.5,247.5 271.0,246.5 271.5,245.5 272.0,244.3 272.5,242.9 273.0,241.5 273.5,239.9 274.0,238.3 274.5,236.5 275.0,234.7 275.5,232.9 276.0,231.0 276.5,229.2 277.0,227.3 277.5,225.4 278.0,223.6 278.5,221.7 279.0,219.7 279.5,217.8 280.0,215.8 280.5,213.7 281.0,211.7 281.5,209.6 282.0,207.5 282.5,205.4 283.0,203.3 283.5,201.1 284.0,199.0 284.5,196.8 285.0,194.6 285.5,192.4 286.0,190.2 286.5,187.9 287.0,185.7 287.5,183.4 288.0,181.2 288.5,178.8 289.0,176.5 289.5,174.1 290.0,171.6 290.5,169.2 291.0,166.7 291.5,164.2 292.0,161.8 292.5,159.3 293.0,156.8 293.5,154.2 294.0,151.7 294.5,149.3 295.0,146.8 295.5,144.3 296.0,141.8 296.5,139.4 297.0,137.0 297.5,134.6 298.0,132.3 298.5,130.0 299.0,127.6 299.5,125.3 300.0,123.0 300.5,120.7 301.0,118.4 301.5,116.1 302.0,113.8 302.5,111.5 303.0,109.3 303.5,107.0 304.0,104.7 304.5,102.5 305.0,100.3 305.5,98.0 306.0,95.8 306.5,93.6 307.0,91.4 307.5,89.2 308.0,87.0 308.5,84.8 309.0,82.6 309.5,80.4 310.0,78.2 310.5,76.1 311.0,73.9 311.5,71.7 312.0,69.6 312.5,67.4 313.0,65.3 313.5,63.2 314.0,61.2 314.5,59.1 315.0,57.2 315.5,55.2 316.0,53.2 316.5,51.1 317.0,49.0 317.5,47.0 318.0,45.1 318.5,43.3 319.0,41.8 319.5,40.6 320.0,39.7 320.5,38.8 321.0,38.0 321.5,37.3 322.0,36.7 322.5,36.1 323.0,35.6 323.5,35.2 324.0,34.8 324.5,34.4 325.0,34.0 325.5,33.7 326.0,33.3 326.5,33.0 327.0,32.8 327.5,32.5 328.0,32.4 328.5,32.2 329.0,32.2 329.5,32.2 330.0,32.3 330.5,32.4 331.0,32.5 331.5,32.7 332.0,32.8 332.5,33.1 333.0,33.3 333.5,33.6 334.0,33.8 334.5,34.1 335.0,34.4 335.5,34.8 336.0,35.1 336.5,35.6 337.0,36.3 337.5,37.0 338.0,37.8 338.5,38.7 339.0,39.7 339.5,40.7 340.0,41.7 340.5,42.8 341.0,43.8 341.5,44.9 342.0,46.0 342.5,47.2 343.0,48.4 343.5,49.7 344.0,51.0 344.5,52.4 345.0,53.7 345.5,55.0 346.0,56.3 346.5,57.6 347.0,58.9 347.5,60.1 348.0,61.4 348.5,62.7 349.0,64.0 349.5,65.2 350.0,66.5 350.5,67.7 351.0,69.0 351.5,70.2 352.0,71.3 352.5,72.5 353.0,73.6 353.5,74.7 354.0,75.8 354.5,76.9 355.0,78.0 355.5,79.1 356.0,80.3 356.5,81.4 357.0,82.6 357.5,83.8 358.0,85.0 358.5,86.3 359.0,87.5 359.5,88.8 360.0,90.1 360.5,91.4 361.0,92.7 361.5,94.0 362.0,95.4 362.5,96.7 363.0,98.1 363.5,99.4 364.0,100.8 364.5,102.1 365.0,103.5 365.5,104.8 366.0,106.2 366.5,107.5 367.0,108.9 367.5,110.2 368.0,111.6 368.5,112.9 369.0,114.3 369.5,115.6 370.0,116.9 370.5,118.2 371.0,119.5 371.5,120.9 372.0,122.2 372.5,123.4 373.0,124.7 373.5,126.0 374.0,127.3 374.5,128.6 375.0,129.8 375.5,131.1 376.0,132.3 376.5,133.6 377.0,134.9 377.5,136.1 378.0,137.3 378.5,138.5 379.0,139.7 379.5,140.9 380.0,142.1 380.5,143.3 381.0,144.4 381.5,145.6 382.0,146.7 382.5,147.9 383.0,149.0 383.5,150.2 384.0,151.3 384.5,152.4 385.0,153.5 385.5,154.6 386.0,155.7 386.5,156.8 387.0,157.9 387.5,159.0 388.0,160.1 388.5,161.1 389.0,162.2 389.5,163.3 390.0,164.3 390.5,165.4 391.0,166.4 391.5,167.4 392.0,168.5 392.5,169.5 393.0,170.5 393.5,171.5 394.0,172.5 394.5,173.5 395.0,174.5 395.5,175.5 396.0,176.5 396.5,177.4 397.0,178.4 397.5,179.4 398.0,180.3 398.5,181.3 399.0,182.2 399.5,183.1 400.0,184.1 400.5,185.0 401.0,185.9 401.5,186.8 402.0,187.7 402.5,188.6 403.0,189.5 403.5,190.4 404.0,191.3 404.5,192.1 405.0,193.0 405.5,193.9 406.0,194.7 406.5,195.6 407.0,196.4 407.5,197.3 408.0,198.1 408.5,198.9 409.0,199.7 409.5,200.6 410.0,201.4 410.5,202.2 411.0,203.0 411.5,203.7 412.0,204.5 412.5,205.3 413.0,206.1 413.5,206.9 414.0,207.6 414.5,208.4 415.0,209.1 415.5,209.9 416.0,210.6 416.5,211.3 417.0,212.1 417.5,212.8 418.0,213.5 418.5,214.2 419.0,214.9 419.5,215.6 420.0,216.3 420.5,217.0 421.0,217.7 421.5,218.4 422.0,219.1 422.5,219.7 423.0,220.4 423.5,221.1 424.0,221.7 424.5,222.4 425.0,223.0 425.5,223.6 426.0,224.3 426.5,224.9 427.0,225.5 427.5,226.1 428.0,226.7 428.5,227.4 429.0,228.0 429.5,228.6 430.0,229.1 430.5,229.7 431.0,230.3 431.5,230.9 432.0,231.5 432.5,232.0 433.0,232.6 433.5,233.2 434.0,233.7 434.5,234.3 435.0,234.8 435.5,235.3 436.0,235.9 436.5,236.4 437.0,236.9 437.5,237.4 438.0,238.0 438.5,238.5 439.0,239.0 439.5,239.5 440.0,240.0 440.5,240.5 441.0,241.0 441.5,241.4 442.0,241.9 442.5,242.4 443.0,242.9 443.5,243.3 444.0,243.8 444.5,244.2 445.0,244.7 445.5,245.1 446.0,245.6 446.5,246.0 447.0,246.5 447.5,246.9 448.0,247.3 448.5,247.7 449.0,248.2 449.5,248.6 450.0,249.0 450.5,249.4 451.0,249.8 451.5,250.2 452.0,250.6 452.5,251.0 453.0,251.3 453.5,251.7 454.0,252.1 454.5,252.5 455.0,252.8 455.5,253.2 456.0,253.6 456.5,253.9 457.0,254.3 457.5,254.6 458.0,255.0 458.5,255.3 459.0,255.6 459.5,256.0 460.0,256.3 460.5,256.6 461.0,256.9 461.5,257.3 462.0,257.6 462.5,257.9 463.0,258.2 463.5,258.5 464.0,258.8 464.5,259.1 465.0,259.4 465.5,259.7 466.0,259.9 466.5,260.2 467.0,260.5 467.5,260.8 468.0,261.0 468.5,261.3 469.0,261.6 469.5,261.8 470.0,262.1 470.5,262.3 471.0,262.6 471.5,262.8 472.0,263.1 472.5,263.3 473.0,263.5 473.5,263.8 474.0,264.0 474.5,264.2 475.0,264.4 475.5,264.7 476.0,264.9 476.5,265.1 477.0,265.3 477.5,265.5 478.0,265.7 478.5,265.9 479.0,266.1 479.5,266.3 480.0,266.5 480.5,266.7 481.0,266.8 481.5,267.0 482.0,267.2 482.5,267.4 483.0,267.5 483.5,267.7 484.0,267.9 484.5,268.0 485.0,268.2 485.5,268.4 486.0,268.5 486.5,268.7 487.0,268.8 487.5,269.0 488.0,269.1 488.5,269.2 489.0,269.4"/>
</g>
<path d="M408,15.4H422.6" stroke="#5f9040" stroke-width="1.5"/>
<text x="424" y="18.3" font-size="11" style="stroke-width:0.2px">Hexane</text>
<path d="M408,36.5H422.6" stroke="#fdbf10" stroke-width="1.5"/>
<text x="424" y="39.4" font-size="11" style="stroke-width:0.2px">Benzene</text>
<path d="M408,57.5H422.6" stroke="#14acec" stroke-width="1.5"/>
<text x="424" y="60.4" font-size="11" style="stroke-width:0.2px">EtOAc</text>
<path d="M408,78.6H422.6" stroke="#7d42b8" stroke-width="1.5"/>
<text x="424" y="81.5" font-size="11" style="stroke-width:0.2px">Chloroform</text>
<path d="M408,99.7H422.6" stroke="#ad5c28" stroke-width="1.5"/>
<text x="424" y="102.6" font-size="11" style="stroke-width:0.2px">Acetone</text>
<path d="M408,120.8H422.6" stroke="#ff2222" stroke-width="1.5"/>
<text x="424" y="123.7" font-size="11" style="stroke-width:0.2px">DMF</text>
<path d="M408,141.8H422.6" stroke="#263a7c" stroke-width="1.5"/>
<text x="424" y="144.7" font-size="11" style="stroke-width:0.2px">DMSO</text>
<path d="M408,162.9H422.6" stroke="#98d25a" stroke-width="1.5"/>
<text x="424" y="165.8" font-size="11" style="stroke-width:0.2px">EtOH</text>
<text x="41.5" y="291.5" font-size="15" text-anchor="end">0</text>
<text x="504" y="291.5" font-size="15">0</text>
<text x="41.5" y="240.4" font-size="15" text-anchor="end">0.2</text>
<text x="504" y="240.4" font-size="15">0.2</text>
<text x="41.5" y="189.3" font-size="15" text-anchor="end">0.4</text>
<text x="504" y="189.3" font-size="15">0.4</text>
<text x="41.5" y="138.2" font-size="15" text-anchor="end">0.6</text>
<text x="504" y="138.2" font-size="15">0.6</text>
<text x="41.5" y="87.1" font-size="15" text-anchor="end">0.8</text>
<text x="504" y="87.1" font-size="15">0.8</text>
<text x="41.5" y="36.0" font-size="15" text-anchor="end">1</text>
<text x="504" y="36.0" font-size="15">1</text>
<text x="56.5" y="312.8" font-size="15" text-anchor="middle">350</text>
<text x="152.8" y="312.8" font-size="15" text-anchor="middle">450</text>
<text x="249.2" y="312.8" font-size="15" text-anchor="middle">550</text>
<text x="345.5" y="312.8" font-size="15" text-anchor="middle">650</text>
<text x="441.8" y="312.8" font-size="15" text-anchor="middle">750</text>
<text x="273.5" y="330" font-size="15" text-anchor="middle" transform="translate(273.5 0) scale(1.07 1) translate(-273.5 0)">Wavelength, nm</text>
<text font-size="15" text-anchor="middle" transform="translate(17.5 146) rotate(-90) scale(1.07 1)">Absorbance (normalized)</text>
<text font-size="15" text-anchor="middle" transform="translate(540 146) rotate(-90) scale(1.07 1)">Emission (normalized)</text>
</svg></body></html>
